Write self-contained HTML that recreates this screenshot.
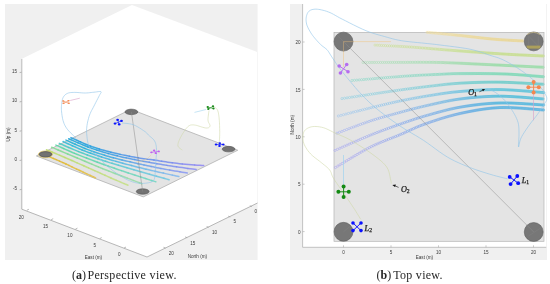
<!DOCTYPE html>
<html><head><meta charset="utf-8"><title>Figure</title>
<style>
html,body{margin:0;padding:0;background:#fff;}
body{width:550px;height:284px;position:relative;overflow:hidden;}
svg{position:absolute;left:0;top:0;}
</style></head><body>
<svg width="550" height="284" viewBox="0 0 550 284">
<rect x="5" y="4" width="252.6" height="256" fill="#f0f0f0"/>
<polygon points="132,5 257,52 257,203 147,257 22,209 21.5,59" fill="#ffffff"/>
<g stroke="#a2a2a2" stroke-width="0.75" fill="none">
<path d="M21.8,59 L21.8,209.2 L147,257 L257.5,203"/>
<path d="M21.6,72.2 l-2,0.4"/>
<path d="M21.6,101.5 l-2,0.4"/>
<path d="M21.6,130.8 l-2,0.4"/>
<path d="M21.6,160.1 l-2,0.4"/>
<path d="M21.6,189.4 l-2,0.4"/>
<path d="M26.89,210.24 l2,-0.98"/>
<path d="M51.16,219.69 l2,-0.98"/>
<path d="M75.44,229.14 l2,-0.98"/>
<path d="M99.71,238.59 l2,-0.98"/>
<path d="M123.99,248.04 l2,-0.98"/>
<path d="M165.55,248.08 l-2.05,-0.8"/>
<path d="M187.13,237.7 l-2.05,-0.8"/>
<path d="M208.7,227.33 l-2.05,-0.8"/>
<path d="M230.28,216.95 l-2.05,-0.8"/>
<path d="M251.85,206.58 l-2.05,-0.8"/>
</g>
<g font-family="Liberation Sans, Arial, sans-serif" font-size="4.6" fill="#3a3a3a" text-anchor="middle">
<text x="17" y="72.9" text-anchor="end">15</text>
<text x="17" y="102.2" text-anchor="end">10</text>
<text x="17" y="131.6" text-anchor="end">5</text>
<text x="17" y="160.8" text-anchor="end">0</text>
<text x="17" y="190.3" text-anchor="end">-5</text>
<text x="21.3" y="218.6">20</text>
<text x="45.5" y="228">15</text>
<text x="69.9" y="237.2">10</text>
<text x="94.8" y="246.8">5</text>
<text x="119.4" y="255.9">0</text>
<text x="171.3" y="254.9">20</text>
<text x="192.8" y="244.5">15</text>
<text x="214.6" y="233.9">10</text>
<text x="234.8" y="223.4">5</text>
<text x="255.9" y="212.8">0</text>
<text x="93.4" y="259.3">East (m)</text>
<text x="197.4" y="257.9">North (m)</text>
<text transform="translate(10.1,134.5) rotate(-90)">Up (m)</text>
</g>
<polygon points="237.75,150.24 130.83,109.32 36.34,155.96 143.27,196.88" fill="#e4e4e4" stroke="#adadad" stroke-width="0.75" stroke-linejoin="round"/>
<path d="M95.59,177.93 L94.64,177.49 L93.42,176.92" fill="none" stroke="#e5c24e" stroke-width="1.5" stroke-linecap="round" opacity="0.88"/>
<path d="M93.42,176.92 L91.97,176.25 L90.34,175.5" fill="none" stroke="#e5c24c" stroke-width="1.5" stroke-linecap="round" opacity="0.88"/>
<path d="M90.34,175.5 L88.59,174.68 L86.77,173.84" fill="none" stroke="#e4c14b" stroke-width="1.5" stroke-linecap="round" opacity="0.88"/>
<path d="M86.77,173.84 L84.91,172.97 L83.08,172.12" fill="none" stroke="#e4bf47" stroke-width="1.5" stroke-linecap="round" opacity="0.88"/>
<path d="M83.08,172.12 L81.33,171.3 L79.69,170.53" fill="none" stroke="#e3bf44" stroke-width="1.5" stroke-linecap="round" opacity="0.88"/>
<path d="M79.69,170.53 L78.14,169.8 L76.59,169.06" fill="none" stroke="#e3bf41" stroke-width="1.5" stroke-linecap="round" opacity="0.88"/>
<path d="M76.59,169.06 L75.04,168.31 L73.51,167.57 L71.98,166.83" fill="none" stroke="#e2be3e" stroke-width="1.5" stroke-linecap="round" opacity="0.88"/>
<path d="M71.98,166.83 L70.46,166.1 L68.94,165.37" fill="none" stroke="#e2bc3a" stroke-width="1.5" stroke-linecap="round" opacity="0.88"/>
<path d="M68.94,165.37 L67.43,164.65 L65.93,163.95" fill="none" stroke="#e1bb37" stroke-width="1.5" stroke-linecap="round" opacity="0.88"/>
<path d="M65.93,163.95 L64.44,163.27 L62.89,162.57" fill="none" stroke="#e1b934" stroke-width="1.5" stroke-linecap="round" opacity="0.88"/>
<path d="M62.89,162.57 L61.25,161.85 L59.57,161.11" fill="none" stroke="#e0b831" stroke-width="1.5" stroke-linecap="round" opacity="0.88"/>
<path d="M59.57,161.11 L57.88,160.38 L56.22,159.67" fill="none" stroke="#e0b831" stroke-width="1.5" stroke-linecap="round" opacity="0.88"/>
<path d="M56.22,159.67 L54.64,159 L53.18,158.38" fill="none" stroke="#e0b831" stroke-width="1.5" stroke-linecap="round" opacity="0.88"/>
<path d="M53.18,158.38 L51.87,157.83 L50.77,157.36 L49.91,156.99" fill="none" stroke="#e0b831" stroke-width="1.5" stroke-linecap="round" opacity="0.88"/>
<path d="M127.99,185.25 L126.97,184.81 L125.63,184.25 L124.06,183.58" fill="none" stroke="#c5df85" stroke-width="1.5" stroke-linecap="round" opacity="0.88"/>
<path d="M124.06,183.58 L122.29,182.83 L120.39,182.02 L118.41,181.18 L116.43,180.33" fill="none" stroke="#c4df84" stroke-width="1.5" stroke-linecap="round" opacity="0.88"/>
<path d="M116.43,180.33 L114.48,179.5 L112.63,178.7 L110.95,177.97" fill="none" stroke="#c4df82" stroke-width="1.5" stroke-linecap="round" opacity="0.88"/>
<path d="M110.95,177.97 L109.38,177.28 L107.87,176.61 L106.39,175.94 L104.94,175.29" fill="none" stroke="#c3de80" stroke-width="1.5" stroke-linecap="round" opacity="0.88"/>
<path d="M104.94,175.29 L103.5,174.64 L102.07,173.99 L100.64,173.34" fill="none" stroke="#c1de7e" stroke-width="1.5" stroke-linecap="round" opacity="0.88"/>
<path d="M100.64,173.34 L99.19,172.68 L97.72,172.02 L96.22,171.34 L94.69,170.66" fill="none" stroke="#c1de7c" stroke-width="1.5" stroke-linecap="round" opacity="0.88"/>
<path d="M94.69,170.66 L93.16,169.97 L91.62,169.28 L90.07,168.59 L88.51,167.89" fill="none" stroke="#c0de79" stroke-width="1.5" stroke-linecap="round" opacity="0.88"/>
<path d="M88.51,167.89 L86.93,167.19 L85.34,166.48 L83.74,165.77" fill="none" stroke="#bfde78" stroke-width="1.5" stroke-linecap="round" opacity="0.88"/>
<path d="M83.74,165.77 L82.11,165.05 L80.47,164.32 L78.8,163.58 L77.09,162.83" fill="none" stroke="#bede76" stroke-width="1.5" stroke-linecap="round" opacity="0.88"/>
<path d="M77.09,162.83 L75.37,162.07 L73.62,161.3 L71.86,160.53" fill="none" stroke="#bddd74" stroke-width="1.5" stroke-linecap="round" opacity="0.88"/>
<path d="M71.86,160.53 L70.1,159.76 L68.34,158.99 L66.59,158.22 L64.85,157.47" fill="none" stroke="#bcdd70" stroke-width="1.5" stroke-linecap="round" opacity="0.88"/>
<path d="M64.85,157.47 L63.14,156.74 L61.37,155.98 L59.5,155.18" fill="none" stroke="#bcdd70" stroke-width="1.5" stroke-linecap="round" opacity="0.88"/>
<path d="M59.5,155.18 L57.57,154.37 L55.62,153.55 L53.72,152.75 L51.91,151.99" fill="none" stroke="#bcdd70" stroke-width="1.5" stroke-linecap="round" opacity="0.88"/>
<path d="M51.91,151.99 L50.23,151.29 L48.73,150.67 L47.46,150.14 L46.47,149.72" fill="none" stroke="#bcdd70" stroke-width="1.5" stroke-linecap="round" opacity="0.88"/>
<path d="M142.01,183.7 L140.89,183.28 L139.45,182.73" fill="none" stroke="#9adcab" stroke-width="1.5" stroke-linecap="round" opacity="0.88"/>
<path d="M139.45,182.73 L137.76,182.09 L135.86,181.37 L133.8,180.58" fill="none" stroke="#98dca9" stroke-width="1.5" stroke-linecap="round" opacity="0.88"/>
<path d="M133.8,180.58 L131.64,179.76 L129.43,178.92 L127.23,178.08" fill="none" stroke="#97dca8" stroke-width="1.5" stroke-linecap="round" opacity="0.88"/>
<path d="M127.23,178.08 L125.08,177.26 L123.04,176.48 L121.06,175.73" fill="none" stroke="#95dca7" stroke-width="1.5" stroke-linecap="round" opacity="0.88"/>
<path d="M121.06,175.73 L119.08,174.98 L117.09,174.22 L115.08,173.46" fill="none" stroke="#94dca5" stroke-width="1.5" stroke-linecap="round" opacity="0.88"/>
<path d="M115.08,173.46 L113.06,172.7 L111.02,171.92 L108.95,171.12" fill="none" stroke="#91dca2" stroke-width="1.5" stroke-linecap="round" opacity="0.88"/>
<path d="M108.95,171.12 L106.87,170.31 L104.76,169.48 L102.62,168.63" fill="none" stroke="#8fdca1" stroke-width="1.5" stroke-linecap="round" opacity="0.88"/>
<path d="M102.62,168.63 L100.47,167.76 L98.33,166.88" fill="none" stroke="#8cdb9f" stroke-width="1.5" stroke-linecap="round" opacity="0.88"/>
<path d="M98.33,166.88 L96.18,165.99 L94.01,165.08 L91.81,164.16" fill="none" stroke="#8adb9c" stroke-width="1.5" stroke-linecap="round" opacity="0.88"/>
<path d="M91.81,164.16 L89.57,163.22 L87.28,162.25 L84.92,161.25" fill="none" stroke="#88db9a" stroke-width="1.5" stroke-linecap="round" opacity="0.88"/>
<path d="M84.92,161.25 L82.5,160.23 L79.99,159.18 L77.26,158.03" fill="none" stroke="#84db96" stroke-width="1.5" stroke-linecap="round" opacity="0.88"/>
<path d="M77.26,158.03 L74.23,156.75 L71,155.39 L67.69,153.99" fill="none" stroke="#7fdb93" stroke-width="1.5" stroke-linecap="round" opacity="0.88"/>
<path d="M67.69,153.99 L64.38,152.59 L61.18,151.24 L58.21,149.99" fill="none" stroke="#7fdb93" stroke-width="1.5" stroke-linecap="round" opacity="0.88"/>
<path d="M58.21,149.99 L55.55,148.86 L53.31,147.92 L51.59,147.19" fill="none" stroke="#7fdb93" stroke-width="1.5" stroke-linecap="round" opacity="0.88"/>
<path d="M155.79,181.83 L155.21,181.64 L154.47,181.4 L153.59,181.12 L152.6,180.8 L151.54,180.46" fill="none" stroke="#74d6c2" stroke-width="1.5" stroke-linecap="round" opacity="0.88"/>
<path d="M151.54,180.46 L150.42,180.1 L149.27,179.73 L148.11,179.36 L146.98,178.99 L145.91,178.64" fill="none" stroke="#73d6c1" stroke-width="1.5" stroke-linecap="round" opacity="0.88"/>
<path d="M145.91,178.64 L144.86,178.31 L143.82,177.97 L142.77,177.64 L141.71,177.3 L140.64,176.96" fill="none" stroke="#71d6c0" stroke-width="1.5" stroke-linecap="round" opacity="0.88"/>
<path d="M140.64,176.96 L139.55,176.61 L138.43,176.25 L137.29,175.88 L136.12,175.5 L134.9,175.11" fill="none" stroke="#70d6be" stroke-width="1.5" stroke-linecap="round" opacity="0.88"/>
<path d="M134.9,175.11 L133.65,174.7 L132.35,174.27 L131.01,173.84 L129.64,173.39 L128.25,172.93" fill="none" stroke="#6ed6bc" stroke-width="1.5" stroke-linecap="round" opacity="0.88"/>
<path d="M128.25,172.93 L126.85,172.47 L125.44,172 L124.04,171.54 L122.66,171.08 L121.3,170.62" fill="none" stroke="#6dd6bb" stroke-width="1.5" stroke-linecap="round" opacity="0.88"/>
<path d="M121.3,170.62 L119.94,170.16 L118.57,169.69 L117.19,169.21 L115.81,168.73 L114.44,168.26" fill="none" stroke="#6ad6b8" stroke-width="1.5" stroke-linecap="round" opacity="0.88"/>
<path d="M114.44,168.26 L113.09,167.78 L111.75,167.32 L110.45,166.86 L109.19,166.42 L107.97,165.99" fill="none" stroke="#68d6b6" stroke-width="1.5" stroke-linecap="round" opacity="0.88"/>
<path d="M107.97,165.99 L106.85,165.6 L105.88,165.27 L104.98,164.96 L104.14,164.67 L103.29,164.38" fill="none" stroke="#65d6b3" stroke-width="1.5" stroke-linecap="round" opacity="0.88"/>
<path d="M103.29,164.38 L102.39,164.06 L101.4,163.71 L100.27,163.3 L98.96,162.81 L97.42,162.23" fill="none" stroke="#63d6b1" stroke-width="1.5" stroke-linecap="round" opacity="0.88"/>
<path d="M97.42,162.23 L95.61,161.55 L93.57,160.77 L91.34,159.92 L88.97,159.01 L86.51,158.06" fill="none" stroke="#60d6ae" stroke-width="1.5" stroke-linecap="round" opacity="0.88"/>
<path d="M86.51,158.06 L84,157.09 L81.51,156.12 L79.08,155.15 L76.75,154.22 L74.58,153.33" fill="none" stroke="#5cd6aa" stroke-width="1.5" stroke-linecap="round" opacity="0.88"/>
<path d="M74.58,153.33 L72.46,152.44 L70.28,151.51 L68.08,150.55 L65.91,149.58 L63.81,148.64" fill="none" stroke="#59d6a7" stroke-width="1.5" stroke-linecap="round" opacity="0.88"/>
<path d="M63.81,148.64 L61.82,147.75 L60,146.92 L58.37,146.18 L56.99,145.56 L55.89,145.07" fill="none" stroke="#59d6a7" stroke-width="1.5" stroke-linecap="round" opacity="0.88"/>
<path d="M169.11,179.74 L168.15,179.47 L166.92,179.13 L165.47,178.73 L163.84,178.27" fill="none" stroke="#71c7e2" stroke-width="1.5" stroke-linecap="round" opacity="0.88"/>
<path d="M163.84,178.27 L162.08,177.78 L160.23,177.26 L158.34,176.73 L156.46,176.2" fill="none" stroke="#6fc7e0" stroke-width="1.5" stroke-linecap="round" opacity="0.88"/>
<path d="M156.46,176.2 L154.62,175.69 L152.88,175.2 L151.19,174.73 L149.48,174.25" fill="none" stroke="#6cc7df" stroke-width="1.5" stroke-linecap="round" opacity="0.88"/>
<path d="M149.48,174.25 L147.75,173.76 L146.01,173.28 L144.27,172.79 L142.51,172.29 L140.76,171.8" fill="none" stroke="#6ac7dd" stroke-width="1.5" stroke-linecap="round" opacity="0.88"/>
<path d="M140.76,171.8 L139.01,171.3 L137.27,170.81 L135.54,170.31 L133.82,169.81" fill="none" stroke="#65c7db" stroke-width="1.5" stroke-linecap="round" opacity="0.88"/>
<path d="M133.82,169.81 L132.11,169.32 L130.39,168.82 L128.68,168.32 L126.97,167.82" fill="none" stroke="#62c8d8" stroke-width="1.5" stroke-linecap="round" opacity="0.88"/>
<path d="M126.97,167.82 L125.26,167.32 L123.56,166.81 L121.86,166.31 L120.16,165.8 L118.47,165.29" fill="none" stroke="#5fc8d6" stroke-width="1.5" stroke-linecap="round" opacity="0.88"/>
<path d="M118.47,165.29 L116.81,164.78 L115.18,164.3 L113.57,163.81 L111.97,163.33" fill="none" stroke="#5bc8d3" stroke-width="1.5" stroke-linecap="round" opacity="0.88"/>
<path d="M111.97,163.33 L110.36,162.85 L108.74,162.35 L107.08,161.83 L105.37,161.28" fill="none" stroke="#58c8d1" stroke-width="1.5" stroke-linecap="round" opacity="0.88"/>
<path d="M105.37,161.28 L103.61,160.7 L101.77,160.08 L99.85,159.43 L97.86,158.74" fill="none" stroke="#53c8cf" stroke-width="1.5" stroke-linecap="round" opacity="0.88"/>
<path d="M97.86,158.74 L95.82,158.02 L93.73,157.28 L91.61,156.52 L89.47,155.74 L87.31,154.94" fill="none" stroke="#4fc9cb" stroke-width="1.5" stroke-linecap="round" opacity="0.88"/>
<path d="M87.31,154.94 L85.14,154.13 L82.99,153.31 L80.85,152.48 L78.62,151.59" fill="none" stroke="#47c9c6" stroke-width="1.5" stroke-linecap="round" opacity="0.88"/>
<path d="M78.62,151.59 L76.24,150.61 L73.75,149.57 L71.24,148.51 L68.76,147.46" fill="none" stroke="#46c9c5" stroke-width="1.5" stroke-linecap="round" opacity="0.88"/>
<path d="M68.76,147.46 L66.39,146.44 L64.2,145.5 L62.23,144.65 L60.58,143.94 L59.29,143.39" fill="none" stroke="#46c9c5" stroke-width="1.5" stroke-linecap="round" opacity="0.88"/>
<path d="M178.84,176.56 L177.65,176.29 L176.12,175.96 L174.31,175.56 L172.28,175.11" fill="none" stroke="#83b8ee" stroke-width="1.5" stroke-linecap="round" opacity="0.88"/>
<path d="M172.28,175.11 L170.1,174.63 L167.82,174.12 L165.51,173.61 L163.24,173.1" fill="none" stroke="#7fb8ed" stroke-width="1.5" stroke-linecap="round" opacity="0.88"/>
<path d="M163.24,173.1 L161.06,172.62 L159.05,172.16 L157.14,171.73 L155.25,171.3" fill="none" stroke="#79b7eb" stroke-width="1.5" stroke-linecap="round" opacity="0.88"/>
<path d="M155.25,171.3 L153.37,170.87 L151.51,170.45 L149.66,170.02 L147.82,169.59 L145.99,169.17" fill="none" stroke="#73b7ea" stroke-width="1.5" stroke-linecap="round" opacity="0.88"/>
<path d="M145.99,169.17 L144.17,168.73 L142.34,168.29 L140.53,167.85 L138.71,167.4" fill="none" stroke="#6cb8e8" stroke-width="1.5" stroke-linecap="round" opacity="0.88"/>
<path d="M138.71,167.4 L136.9,166.95 L135.1,166.49 L133.31,166.03 L131.52,165.57" fill="none" stroke="#65b8e6" stroke-width="1.5" stroke-linecap="round" opacity="0.88"/>
<path d="M131.52,165.57 L129.74,165.1 L127.97,164.64 L126.2,164.16 L124.44,163.69 L122.69,163.21" fill="none" stroke="#5fb8e4" stroke-width="1.5" stroke-linecap="round" opacity="0.88"/>
<path d="M122.69,163.21 L120.96,162.73 L119.28,162.27 L117.62,161.81 L115.97,161.36" fill="none" stroke="#56b8e2" stroke-width="1.5" stroke-linecap="round" opacity="0.88"/>
<path d="M115.97,161.36 L114.33,160.89 L112.66,160.41 L110.96,159.91 L109.22,159.38" fill="none" stroke="#4fb8e1" stroke-width="1.5" stroke-linecap="round" opacity="0.88"/>
<path d="M109.22,159.38 L107.41,158.83 L105.53,158.23 L103.56,157.59 L101.53,156.93" fill="none" stroke="#47b7df" stroke-width="1.5" stroke-linecap="round" opacity="0.88"/>
<path d="M101.53,156.93 L99.43,156.24 L97.29,155.53 L95.11,154.79 L92.92,154.04 L90.72,153.26" fill="none" stroke="#3db8dc" stroke-width="1.5" stroke-linecap="round" opacity="0.88"/>
<path d="M90.72,153.26 L88.52,152.46 L86.35,151.65 L84.2,150.82 L81.99,149.93" fill="none" stroke="#2fb8d9" stroke-width="1.5" stroke-linecap="round" opacity="0.88"/>
<path d="M81.99,149.93 L79.62,148.94 L77.18,147.88 L74.72,146.8 L72.3,145.72" fill="none" stroke="#2db8d8" stroke-width="1.5" stroke-linecap="round" opacity="0.88"/>
<path d="M72.3,145.72 L69.98,144.67 L67.84,143.7 L65.93,142.83 L64.31,142.1 L63.05,141.54" fill="none" stroke="#2db8d8" stroke-width="1.5" stroke-linecap="round" opacity="0.88"/>
<path d="M187.34,172.98 L186,172.76 L184.25,172.48 L182.18,172.14 L179.86,171.76" fill="none" stroke="#8a9af2" stroke-width="1.5" stroke-linecap="round" opacity="0.88"/>
<path d="M179.86,171.76 L177.37,171.35 L174.78,170.92 L172.17,170.49 L169.61,170.05" fill="none" stroke="#849bf0" stroke-width="1.5" stroke-linecap="round" opacity="0.88"/>
<path d="M169.61,170.05 L167.19,169.63 L164.98,169.23 L162.91,168.84 L160.87,168.45" fill="none" stroke="#7d9dee" stroke-width="1.5" stroke-linecap="round" opacity="0.88"/>
<path d="M160.87,168.45 L158.85,168.05 L156.87,167.65 L154.92,167.25 L153,166.85 L151.12,166.45" fill="none" stroke="#759eed" stroke-width="1.5" stroke-linecap="round" opacity="0.88"/>
<path d="M151.12,166.45 L149.27,166.06 L147.46,165.68 L145.69,165.3 L144,164.94" fill="none" stroke="#6da0eb" stroke-width="1.5" stroke-linecap="round" opacity="0.88"/>
<path d="M144,164.94 L142.41,164.61 L140.89,164.29 L139.41,163.97 L137.96,163.65" fill="none" stroke="#66a2e9" stroke-width="1.5" stroke-linecap="round" opacity="0.88"/>
<path d="M137.96,163.65 L136.49,163.33 L134.99,163 L133.43,162.64 L131.77,162.26 L130,161.84" fill="none" stroke="#5fa3e7" stroke-width="1.5" stroke-linecap="round" opacity="0.88"/>
<path d="M130,161.84 L128.12,161.39 L126.14,160.93 L124.1,160.45 L121.99,159.95" fill="none" stroke="#56a5e5" stroke-width="1.5" stroke-linecap="round" opacity="0.88"/>
<path d="M121.99,159.95 L119.84,159.43 L117.66,158.89 L115.47,158.34 L113.27,157.76" fill="none" stroke="#4ba7e2" stroke-width="1.5" stroke-linecap="round" opacity="0.88"/>
<path d="M113.27,157.76 L111.08,157.17 L108.93,156.55 L106.78,155.92 L104.61,155.26" fill="none" stroke="#40aae0" stroke-width="1.5" stroke-linecap="round" opacity="0.88"/>
<path d="M104.61,155.26 L102.44,154.59 L100.26,153.9 L98.07,153.2 L95.88,152.47 L93.7,151.72" fill="none" stroke="#34acdd" stroke-width="1.5" stroke-linecap="round" opacity="0.88"/>
<path d="M93.7,151.72 L91.52,150.95 L89.35,150.16 L87.19,149.35 L84.95,148.46" fill="none" stroke="#24b0d9" stroke-width="1.5" stroke-linecap="round" opacity="0.88"/>
<path d="M84.95,148.46 L82.57,147.48 L80.12,146.43 L77.64,145.35 L75.22,144.27" fill="none" stroke="#21b0d8" stroke-width="1.5" stroke-linecap="round" opacity="0.88"/>
<path d="M75.22,144.27 L72.9,143.23 L70.75,142.26 L68.83,141.39 L67.21,140.66 L65.95,140.1" fill="none" stroke="#21b0d8" stroke-width="1.5" stroke-linecap="round" opacity="0.88"/>
<path d="M196.16,169.53 L194.67,169.32 L192.72,169.06 L190.42,168.74 L187.83,168.39" fill="none" stroke="#8c8df2" stroke-width="1.5" stroke-linecap="round" opacity="0.88"/>
<path d="M187.83,168.39 L185.06,168 L182.19,167.61 L179.3,167.2 L176.48,166.8" fill="none" stroke="#858ff0" stroke-width="1.5" stroke-linecap="round" opacity="0.88"/>
<path d="M176.48,166.8 L173.82,166.41 L171.41,166.05 L169.18,165.71 L167,165.37" fill="none" stroke="#7d91ef" stroke-width="1.5" stroke-linecap="round" opacity="0.88"/>
<path d="M167,165.37 L164.86,165.02 L162.76,164.68 L160.71,164.33 L158.7,163.99 L156.73,163.65" fill="none" stroke="#7692ed" stroke-width="1.5" stroke-linecap="round" opacity="0.88"/>
<path d="M156.73,163.65 L154.79,163.32 L152.9,162.99 L151.04,162.66 L149.25,162.35" fill="none" stroke="#6d95eb" stroke-width="1.5" stroke-linecap="round" opacity="0.88"/>
<path d="M149.25,162.35 L147.57,162.06 L145.97,161.78 L144.42,161.5 L142.88,161.23" fill="none" stroke="#6697ea" stroke-width="1.5" stroke-linecap="round" opacity="0.88"/>
<path d="M142.88,161.23 L141.34,160.94 L139.76,160.64 L138.12,160.33 L136.38,159.98 L134.53,159.6" fill="none" stroke="#5f98e9" stroke-width="1.5" stroke-linecap="round" opacity="0.88"/>
<path d="M134.53,159.6 L132.56,159.2 L130.51,158.77 L128.38,158.33 L126.19,157.88" fill="none" stroke="#549ae7" stroke-width="1.5" stroke-linecap="round" opacity="0.88"/>
<path d="M126.19,157.88 L123.95,157.4 L121.69,156.9 L119.41,156.39 L117.14,155.85" fill="none" stroke="#4a9de5" stroke-width="1.5" stroke-linecap="round" opacity="0.88"/>
<path d="M117.14,155.85 L114.87,155.29 L112.64,154.72 L110.42,154.12 L108.19,153.5" fill="none" stroke="#3e9ee2" stroke-width="1.5" stroke-linecap="round" opacity="0.88"/>
<path d="M108.19,153.5 L105.94,152.87 L103.69,152.21 L101.44,151.53 L99.19,150.83 L96.94,150.12" fill="none" stroke="#32a1e0" stroke-width="1.5" stroke-linecap="round" opacity="0.88"/>
<path d="M96.94,150.12 L94.71,149.37 L92.48,148.61 L90.27,147.82 L87.99,146.97" fill="none" stroke="#21a4dd" stroke-width="1.5" stroke-linecap="round" opacity="0.88"/>
<path d="M87.99,146.97 L85.56,146.01 L83.06,144.98 L80.54,143.92 L78.07,142.86" fill="none" stroke="#1da6dc" stroke-width="1.5" stroke-linecap="round" opacity="0.88"/>
<path d="M78.07,142.86 L75.72,141.84 L73.54,140.88 L71.6,140.03 L69.95,139.31 L68.67,138.76" fill="none" stroke="#1da6dc" stroke-width="1.5" stroke-linecap="round" opacity="0.88"/>
<path d="M203.65,165.61 L202.03,165.48 L199.91,165.32 L197.4,165.13 L194.58,164.91" fill="none" stroke="#8f89f2" stroke-width="1.5" stroke-linecap="round" opacity="0.88"/>
<path d="M194.58,164.91 L191.57,164.68 L188.44,164.43 L185.31,164.17 L182.27,163.91" fill="none" stroke="#898af1" stroke-width="1.5" stroke-linecap="round" opacity="0.88"/>
<path d="M182.27,163.91 L179.42,163.64 L176.85,163.37 L174.5,163.1 L172.22,162.8" fill="none" stroke="#818cef" stroke-width="1.5" stroke-linecap="round" opacity="0.88"/>
<path d="M172.22,162.8 L170,162.5 L167.85,162.18 L165.75,161.86 L163.69,161.54 L161.68,161.22" fill="none" stroke="#788dee" stroke-width="1.5" stroke-linecap="round" opacity="0.88"/>
<path d="M161.68,161.22 L159.69,160.9 L157.74,160.6 L155.79,160.31 L153.91,160.05" fill="none" stroke="#6f8fec" stroke-width="1.5" stroke-linecap="round" opacity="0.88"/>
<path d="M153.91,160.05 L152.13,159.81 L150.41,159.59 L148.73,159.37 L147.08,159.15" fill="none" stroke="#6990eb" stroke-width="1.5" stroke-linecap="round" opacity="0.88"/>
<path d="M147.08,159.15 L145.41,158.93 L143.71,158.69 L141.95,158.43 L140.11,158.14 L138.16,157.81" fill="none" stroke="#6292ea" stroke-width="1.5" stroke-linecap="round" opacity="0.88"/>
<path d="M138.16,157.81 L136.1,157.45 L133.95,157.07 L131.74,156.67 L129.48,156.25" fill="none" stroke="#5893e8" stroke-width="1.5" stroke-linecap="round" opacity="0.88"/>
<path d="M129.48,156.25 L127.17,155.81 L124.84,155.35 L122.49,154.87 L120.14,154.37" fill="none" stroke="#4d95e6" stroke-width="1.5" stroke-linecap="round" opacity="0.88"/>
<path d="M120.14,154.37 L117.8,153.85 L115.49,153.31 L113.19,152.75 L110.87,152.18" fill="none" stroke="#4298e4" stroke-width="1.5" stroke-linecap="round" opacity="0.88"/>
<path d="M110.87,152.18 L108.53,151.59 L106.19,150.97 L103.85,150.34 L101.51,149.69 L99.19,149.01" fill="none" stroke="#359ae2" stroke-width="1.5" stroke-linecap="round" opacity="0.88"/>
<path d="M99.19,149.01 L96.88,148.3 L94.6,147.56 L92.36,146.8 L90.05,145.95" fill="none" stroke="#259edf" stroke-width="1.5" stroke-linecap="round" opacity="0.88"/>
<path d="M90.05,145.95 L87.62,144.99 L85.13,143.96 L82.64,142.89 L80.2,141.81" fill="none" stroke="#229ede" stroke-width="1.5" stroke-linecap="round" opacity="0.88"/>
<path d="M80.2,141.81 L77.88,140.77 L75.73,139.8 L73.82,138.93 L72.2,138.2 L70.94,137.64" fill="none" stroke="#229ede" stroke-width="1.5" stroke-linecap="round" opacity="0.88"/>
<ellipse cx="131.4" cy="111.92" rx="6.4" ry="2.75" fill="#727272" stroke="#505050" stroke-width="0.6"/>
<ellipse cx="228.6" cy="149.12" rx="6.4" ry="2.75" fill="#727272" stroke="#505050" stroke-width="0.6"/>
<ellipse cx="45.5" cy="154.32" rx="6.4" ry="2.75" fill="#727272" stroke="#505050" stroke-width="0.6"/>
<ellipse cx="142.7" cy="191.52" rx="6.4" ry="2.75" fill="#727272" stroke="#505050" stroke-width="0.6"/>
<ellipse cx="45.5" cy="154.32" rx="7.1" ry="3.4" fill="none" stroke="#e2c458" stroke-width="0.8" opacity="0.85"/>
<ellipse cx="45.5" cy="154.32" rx="6.2" ry="2.6" fill="#727272" stroke="#505050" stroke-width="0.5"/>
<line x1="131.4" y1="111.92" x2="142.7" y2="191.52" stroke="#8a8a8a" stroke-width="0.5"/>
<path d="M76,138 L75.05,137.09 L73.7,135.83 L72.11,134.33 L70.47,132.73 L68.94,131.14 L67.7,129.7 L66.74,128.41 L65.91,127.17 L65.2,125.96 L64.58,124.71 L64.02,123.41 L63.5,122 L63.03,120.44 L62.63,118.75 L62.29,116.99 L62.01,115.24 L61.78,113.55 L61.6,112 L61.47,110.59 L61.4,109.27 L61.38,108.02 L61.41,106.81 L61.49,105.61 L61.6,104.4 L61.74,103.15 L61.91,101.88 L62.12,100.63 L62.4,99.42 L62.75,98.3 L63.2,97.3 L63.74,96.42 L64.36,95.62 L65.06,94.91 L65.84,94.29 L66.68,93.75 L67.6,93.3 L68.57,92.95 L69.61,92.71 L70.71,92.56 L71.9,92.47 L73.19,92.43 L74.6,92.4 L76.18,92.43 L77.93,92.54 L79.79,92.69 L81.67,92.85 L83.5,92.96 L85.2,93 L86.79,92.94 L88.33,92.83 L89.83,92.67 L91.27,92.5 L92.66,92.33 L94,92.2 L95.37,92.05 L96.79,91.85 L98.16,91.66 L99.38,91.53 L100.36,91.53 L101,91.7 L101.26,92.02 L101.21,92.43 L100.92,92.97 L100.46,93.66 L99.89,94.52 L99.3,95.6 L98.61,96.97 L97.77,98.64 L96.82,100.48 L95.83,102.4 L94.87,104.27 L94,106 L93.19,107.56 L92.4,109.05 L91.63,110.49 L90.9,111.94 L90.22,113.43 L89.6,115 L89.03,116.67 L88.51,118.43 L88.04,120.22 L87.62,122.02 L87.27,123.79 L87,125.5 L86.79,127.11 L86.65,128.65 L86.57,130.16 L86.56,131.69 L86.64,133.28 L86.8,135 L86.99,136.86 L87.2,138.83 L87.49,140.86 L87.93,142.93 L88.58,144.99 L89.5,147 L90.77,148.98 L92.34,150.97 L94.13,152.96 L96.03,154.91 L97.95,156.83 L99.8,158.7 L101.57,160.52 L103.35,162.3 L105.15,164.04 L106.98,165.74 L108.86,167.39 L110.8,169 L112.84,170.59 L114.97,172.16 L117.14,173.69 L119.32,175.15 L121.46,176.49 L123.5,177.7 L125.46,178.77 L127.38,179.74 L129.25,180.59 L131.08,181.34 L132.86,181.98 L134.6,182.5 L136.29,182.89 L137.94,183.15 L139.55,183.3 L141.11,183.36 L142.63,183.35 L144.1,183.3 L145.57,183.2 L147.05,183.02 L148.48,182.78 L149.82,182.48 L151.01,182.12 L152,181.7 L152.76,181.27 L153.33,180.82 L153.74,180.31 L154.06,179.7 L154.33,178.95 L154.6,178 L154.84,176.81 L155.01,175.41 L155.12,173.86 L155.21,172.23 L155.3,170.59 L155.4,169 L155.51,167.46 L155.62,165.91 L155.72,164.34 L155.81,162.76 L155.91,161.15 L156,159.5 L156.12,157.78 L156.26,155.98 L156.41,154.16 L156.51,152.35 L156.56,150.62 L156.5,149 L156.37,147.5 L156.2,146.07 L155.97,144.72 L155.64,143.43 L155.19,142.19 L154.6,141 L153.78,139.85 L152.75,138.76 L151.59,137.71 L150.42,136.73 L149.32,135.83 L148.4,135 L147.77,134.32 L147.36,133.8 L147.03,133.35 L146.63,132.89 L146,132.33 L145,131.6 L143.55,130.61 L141.77,129.4 L139.76,128.1 L137.63,126.82 L135.51,125.68 L133.5,124.8 L131.45,124.19 L129.24,123.76 L127.03,123.48 L124.98,123.28 L123.25,123.14 L122,123" fill="none" stroke="#8ec4ea" stroke-width="0.6"/>
<path d="M213.9,106.6 L214.14,106.81 L214.45,107.04 L214.83,107.3 L215.25,107.6 L215.7,107.94 L216.16,108.34 L216.6,108.78 L217.02,109.29 L217.39,109.86 L217.7,110.5 L217.95,111.22 L218.18,112.01 L218.38,112.86 L218.56,113.78 L218.71,114.75 L218.85,115.77 L218.98,116.83 L219.09,117.92 L219.2,119.05 L219.3,120.2 L219.39,121.42 L219.47,122.73 L219.53,124.12 L219.58,125.56 L219.62,127.01 L219.66,128.46 L219.68,129.88 L219.69,131.25 L219.7,132.53 L219.7,133.7 L219.69,134.8 L219.66,135.89 L219.63,136.94 L219.58,137.94 L219.52,138.89 L219.47,139.78 L219.42,140.58 L219.37,141.29 L219.33,141.9 L219.3,142.4" fill="none" stroke="#cdd6a4" stroke-width="0.55"/>
<path d="M209,110.5 L208.93,111.09 L208.82,111.88 L208.68,112.82 L208.53,113.87 L208.38,114.99 L208.23,116.14 L208.11,117.27 L208.02,118.35 L207.98,119.34 L208,120.2 L208.11,120.96 L208.3,121.67 L208.57,122.35 L208.87,122.98 L209.19,123.58 L209.49,124.14 L209.75,124.66 L209.94,125.15 L210.03,125.59 L210,126 L209.88,126.38 L209.7,126.72 L209.48,127.04 L209.19,127.31 L208.84,127.55 L208.43,127.74 L207.94,127.89 L207.38,127.98 L206.73,128.02 L206,128 L205.13,127.88 L204.09,127.66 L202.92,127.34 L201.67,126.97 L200.36,126.56 L199.05,126.15 L197.77,125.76 L196.56,125.42 L195.45,125.16 L194.5,125 L193.68,124.92 L192.96,124.87 L192.31,124.85 L191.72,124.88 L191.18,124.95 L190.67,125.06 L190.19,125.22 L189.7,125.43 L189.21,125.69 L188.7,126 L188.18,126.38 L187.66,126.84 L187.16,127.36 L186.66,127.93 L186.18,128.54 L185.71,129.18 L185.24,129.84 L184.79,130.51 L184.34,131.16 L183.9,131.8 L183.47,132.44 L183.03,133.1 L182.6,133.78 L182.18,134.47 L181.78,135.17 L181.38,135.86 L181,136.55 L180.64,137.22 L180.31,137.87 L180,138.5 L179.71,139.11 L179.44,139.72 L179.18,140.32 L178.94,140.91 L178.72,141.48 L178.53,142.04 L178.36,142.57 L178.21,143.08 L178.09,143.56 L178,144 L177.93,144.4 L177.89,144.76 L177.86,145.08 L177.86,145.38 L177.89,145.65 L177.94,145.91 L178.03,146.17 L178.15,146.43 L178.31,146.71 L178.5,147 L178.76,147.32 L179.11,147.66 L179.52,148.02 L179.96,148.38 L180.43,148.74 L180.9,149.08 L181.34,149.39 L181.73,149.68 L182.06,149.92 L182.3,150.1" fill="none" stroke="#cdd6a4" stroke-width="0.55"/>
<line x1="194.5" y1="112.4" x2="206" y2="109.5" stroke="#9fd3ef" stroke-width="0.6"/>
<line x1="70.2" y1="100.5" x2="79.8" y2="98.2" stroke="#d9a0c8" stroke-width="0.6"/>
<path d="M151.3,154.8 L147.3,158.7 L142.5,161 L136.2,161.9" fill="none" stroke="#efd09a" stroke-width="0.5"/>
<path d="M63.2,101 L68.8,103.3 M68.5,100.8 L63.5,103.3" stroke="#f4874f" stroke-width="0.6"/><ellipse cx="63.2" cy="101" rx="1.2" ry="0.8" fill="#f4874f"/><ellipse cx="68.5" cy="100.8" rx="1.2" ry="0.8" fill="#f4874f"/><ellipse cx="63.5" cy="103.3" rx="1.2" ry="0.8" fill="#f4874f"/><ellipse cx="68.8" cy="103.3" rx="1.2" ry="0.8" fill="#f4874f"/>
<path d="M117.6,119.9 L119.2,124.4 M121.5,120.9 L115,123.6" stroke="#0a14ff" stroke-width="0.6"/><ellipse cx="117.6" cy="119.9" rx="1.4" ry="1.1" fill="#0a14ff"/><ellipse cx="121.5" cy="120.9" rx="1.4" ry="1.1" fill="#0a14ff"/><ellipse cx="115" cy="123.6" rx="1.4" ry="1.1" fill="#0a14ff"/><ellipse cx="119.2" cy="124.4" rx="1.4" ry="1.1" fill="#0a14ff"/>
<path d="M207.7,107 L213.5,108.6 M213,106.3 L208.3,109.1" stroke="#1a8a1a" stroke-width="0.6"/><ellipse cx="207.7" cy="107" rx="1.15" ry="1" fill="#1a8a1a"/><ellipse cx="213" cy="106.3" rx="1.15" ry="1" fill="#1a8a1a"/><ellipse cx="208.3" cy="109.1" rx="1.15" ry="1" fill="#1a8a1a"/><ellipse cx="213.5" cy="108.6" rx="1.15" ry="1" fill="#1a8a1a"/>
<path d="M154.1,150.4 L155.8,153.2 M158.7,151.4 L151.4,152.3" stroke="#c061f0" stroke-width="0.6"/><ellipse cx="154.1" cy="150.4" rx="1.2" ry="0.85" fill="#c061f0"/><ellipse cx="158.7" cy="151.4" rx="1.2" ry="0.85" fill="#c061f0"/><ellipse cx="151.4" cy="152.3" rx="1.2" ry="0.85" fill="#c061f0"/><ellipse cx="155.8" cy="153.2" rx="1.2" ry="0.85" fill="#c061f0"/>
<path d="M216,144.5 L223.3,144.5 M219.8,143.1 L219.5,146" stroke="#0a14ff" stroke-width="0.6"/><ellipse cx="216" cy="144.5" rx="1.3" ry="0.95" fill="#0a14ff"/><ellipse cx="219.8" cy="143.1" rx="1.3" ry="0.95" fill="#0a14ff"/><ellipse cx="219.5" cy="146" rx="1.3" ry="0.95" fill="#0a14ff"/><ellipse cx="223.3" cy="144.5" rx="1.3" ry="0.95" fill="#0a14ff"/>
<rect x="290" y="4" width="257" height="256" fill="#f0f0f0"/>
<rect x="302.6" y="4" width="243.6" height="243.3" fill="#ffffff"/>
<path d="M302.6,4 L302.6,247.3 L546.2,247.3" fill="none" stroke="#b4b4b4" stroke-width="0.8"/>
<g stroke="#a8a8a8" stroke-width="0.6">
<line x1="302.6" y1="231.6" x2="304.6" y2="231.6"/>
<line x1="302.6" y1="184.2" x2="304.6" y2="184.2"/>
<line x1="302.6" y1="136.8" x2="304.6" y2="136.8"/>
<line x1="302.6" y1="89.4" x2="304.6" y2="89.4"/>
<line x1="302.6" y1="42" x2="304.6" y2="42"/>
<line x1="343.5" y1="247.3" x2="343.5" y2="245.3"/>
<line x1="391" y1="247.3" x2="391" y2="245.3"/>
<line x1="438.5" y1="247.3" x2="438.5" y2="245.3"/>
<line x1="486" y1="247.3" x2="486" y2="245.3"/>
<line x1="533.5" y1="247.3" x2="533.5" y2="245.3"/>
</g>
<g font-family="Liberation Sans, Arial, sans-serif" font-size="4.6" fill="#3a3a3a" text-anchor="middle">
<text x="300.6" y="233.7" text-anchor="end">0</text>
<text x="300.6" y="186.3" text-anchor="end">5</text>
<text x="300.6" y="138.9" text-anchor="end">10</text>
<text x="300.6" y="91.5" text-anchor="end">15</text>
<text x="300.6" y="44.1" text-anchor="end">20</text>
<text x="343.5" y="253.8">0</text>
<text x="391" y="253.8">5</text>
<text x="438.5" y="253.8">10</text>
<text x="486" y="253.8">15</text>
<text x="533.5" y="253.8">20</text>
<text x="424.4" y="259.4">East (m)</text>
<text transform="translate(293.9,124.7) rotate(-90)">North (m)</text>
</g>
<rect x="334" y="32.4" width="210" height="208.9" fill="#e4e4e4" stroke="#b4b4b4" stroke-width="0.7"/>
<path d="M343.5,41.6 L391,41.6 M343.5,41.6 L343.5,67" fill="none" stroke="#eecb94" stroke-width="0.6"/>
<g fill="none" stroke-width="0.5">
<circle cx="427" cy="32.3" r="1.1" stroke="#efdc9c"/>
<circle cx="428.46" cy="32.44" r="1.1" stroke="#efdc9c"/>
<circle cx="429.91" cy="32.58" r="1.1" stroke="#efdc9c"/>
<circle cx="431.33" cy="32.71" r="1.1" stroke="#efdc9b"/>
<circle cx="432.74" cy="32.85" r="1.1" stroke="#efdc9b"/>
<circle cx="434.12" cy="32.98" r="1.1" stroke="#efdc9b"/>
<circle cx="435.5" cy="33.11" r="1.1" stroke="#efdb9b"/>
<circle cx="436.85" cy="33.24" r="1.1" stroke="#efdb9b"/>
<circle cx="438.18" cy="33.37" r="1.1" stroke="#efdb9a"/>
<circle cx="439.5" cy="33.49" r="1.1" stroke="#eedb9a"/>
<circle cx="440.8" cy="33.62" r="1.1" stroke="#eedb9a"/>
<circle cx="442.08" cy="33.74" r="1.1" stroke="#eedb99"/>
<circle cx="443.35" cy="33.86" r="1.1" stroke="#eedb99"/>
<circle cx="444.6" cy="33.98" r="1.1" stroke="#eedb99"/>
<circle cx="445.84" cy="34.1" r="1.1" stroke="#eedb99"/>
<circle cx="447.06" cy="34.22" r="1.1" stroke="#eeda98"/>
<circle cx="448.26" cy="34.33" r="1.1" stroke="#eeda98"/>
<circle cx="449.44" cy="34.45" r="1.1" stroke="#eeda98"/>
<circle cx="450.62" cy="34.56" r="1.1" stroke="#eeda98"/>
<circle cx="451.77" cy="34.68" r="1.1" stroke="#eeda97"/>
<circle cx="452.91" cy="34.79" r="1.1" stroke="#eeda97"/>
<circle cx="454.04" cy="34.9" r="1.1" stroke="#eeda97"/>
<circle cx="455.15" cy="35.01" r="1.1" stroke="#edda97"/>
<circle cx="456.25" cy="35.12" r="1.1" stroke="#edd996"/>
<circle cx="457.33" cy="35.23" r="1.1" stroke="#edd996"/>
<circle cx="458.4" cy="35.34" r="1.1" stroke="#edd996"/>
<circle cx="459.46" cy="35.44" r="1.1" stroke="#edd995"/>
<circle cx="460.5" cy="35.55" r="1.1" stroke="#edd995"/>
<circle cx="461.53" cy="35.66" r="1.1" stroke="#edd995"/>
<circle cx="462.54" cy="35.76" r="1.1" stroke="#edd995"/>
<circle cx="463.54" cy="35.87" r="1.1" stroke="#edd994"/>
<circle cx="464.53" cy="35.98" r="1.1" stroke="#edd994"/>
<circle cx="465.51" cy="36.08" r="1.1" stroke="#edd894"/>
<circle cx="466.47" cy="36.19" r="1.1" stroke="#edd894"/>
<circle cx="467.42" cy="36.3" r="1.1" stroke="#edd893"/>
<circle cx="468.36" cy="36.4" r="1.1" stroke="#edd893"/>
<circle cx="469.31" cy="36.51" r="1.1" stroke="#ecd893"/>
<circle cx="470.25" cy="36.62" r="1.1" stroke="#ecd893"/>
<circle cx="471.2" cy="36.73" r="1.1" stroke="#ecd892"/>
<circle cx="472.14" cy="36.84" r="1.1" stroke="#ecd892"/>
<circle cx="473.08" cy="36.95" r="1.1" stroke="#ecd792"/>
<circle cx="474.03" cy="37.06" r="1.1" stroke="#ecd792"/>
<circle cx="474.97" cy="37.17" r="1.1" stroke="#ecd791"/>
<circle cx="475.91" cy="37.28" r="1.1" stroke="#ecd791"/>
<circle cx="476.86" cy="37.39" r="1.1" stroke="#ecd791"/>
<circle cx="477.8" cy="37.5" r="1.1" stroke="#ecd791"/>
<circle cx="478.74" cy="37.61" r="1.1" stroke="#ecd790"/>
<circle cx="479.69" cy="37.72" r="1.1" stroke="#ecd790"/>
<circle cx="480.63" cy="37.83" r="1.1" stroke="#ecd790"/>
<circle cx="481.58" cy="37.93" r="1.1" stroke="#ecd68f"/>
<circle cx="482.52" cy="38.04" r="1.1" stroke="#ebd68f"/>
<circle cx="483.46" cy="38.14" r="1.1" stroke="#ebd68f"/>
<circle cx="484.41" cy="38.25" r="1.1" stroke="#ebd68f"/>
<circle cx="485.35" cy="38.35" r="1.1" stroke="#ebd68e"/>
<circle cx="486.3" cy="38.45" r="1.1" stroke="#ebd68e"/>
<circle cx="487.24" cy="38.55" r="1.1" stroke="#ebd68e"/>
<circle cx="488.19" cy="38.65" r="1.1" stroke="#ebd68e"/>
<circle cx="489.13" cy="38.74" r="1.1" stroke="#ebd58d"/>
<circle cx="490.08" cy="38.84" r="1.1" stroke="#ebd58d"/>
<circle cx="491.02" cy="38.93" r="1.1" stroke="#ebd58d"/>
<circle cx="491.97" cy="39.02" r="1.1" stroke="#ebd58c"/>
<circle cx="492.92" cy="39.1" r="1.1" stroke="#ebd58c"/>
<circle cx="493.86" cy="39.19" r="1.1" stroke="#ebd58c"/>
<circle cx="494.81" cy="39.27" r="1.1" stroke="#ead58c"/>
<circle cx="495.75" cy="39.34" r="1.1" stroke="#ead58b"/>
<circle cx="496.7" cy="39.42" r="1.1" stroke="#ead48b"/>
<circle cx="497.65" cy="39.49" r="1.1" stroke="#ead48b"/>
<circle cx="498.6" cy="39.56" r="1.1" stroke="#ead48a"/>
<circle cx="499.54" cy="39.63" r="1.1" stroke="#ead48a"/>
<circle cx="500.49" cy="39.69" r="1.1" stroke="#ead48a"/>
<circle cx="501.44" cy="39.75" r="1.1" stroke="#ead48a"/>
<circle cx="502.39" cy="39.82" r="1.1" stroke="#ead48a"/>
<circle cx="503.34" cy="39.88" r="1.1" stroke="#ead48a"/>
<circle cx="504.28" cy="39.93" r="1.1" stroke="#ead48a"/>
<circle cx="505.23" cy="39.99" r="1.1" stroke="#ead48a"/>
<circle cx="506.18" cy="40.05" r="1.1" stroke="#ead48a"/>
<circle cx="507.13" cy="40.1" r="1.1" stroke="#ead48a"/>
<circle cx="508.08" cy="40.16" r="1.1" stroke="#ead48a"/>
<circle cx="509.03" cy="40.21" r="1.1" stroke="#ead48a"/>
<circle cx="509.97" cy="40.26" r="1.1" stroke="#ead48a"/>
<circle cx="510.92" cy="40.32" r="1.1" stroke="#ead48a"/>
<circle cx="511.87" cy="40.37" r="1.1" stroke="#ead48a"/>
<circle cx="512.82" cy="40.42" r="1.1" stroke="#ead48a"/>
<circle cx="513.77" cy="40.47" r="1.1" stroke="#ead48a"/>
<circle cx="514.72" cy="40.52" r="1.1" stroke="#ead48a"/>
<circle cx="515.67" cy="40.57" r="1.1" stroke="#ead48a"/>
<circle cx="516.62" cy="40.61" r="1.1" stroke="#ead48a"/>
<circle cx="517.56" cy="40.66" r="1.1" stroke="#ead48a"/>
<circle cx="518.51" cy="40.71" r="1.1" stroke="#ead48a"/>
<circle cx="519.46" cy="40.76" r="1.1" stroke="#ead48a"/>
<circle cx="520.41" cy="40.81" r="1.1" stroke="#ead48a"/>
<circle cx="521.36" cy="40.86" r="1.1" stroke="#ead48a"/>
<circle cx="522.31" cy="40.91" r="1.1" stroke="#ead48a"/>
<circle cx="523.26" cy="40.96" r="1.1" stroke="#ead48a"/>
</g>
<g fill="none" stroke-width="0.5">
<circle cx="375" cy="45.1" r="1.1" stroke="#cadf96"/>
<circle cx="377.14" cy="45.21" r="1.1" stroke="#cadf96"/>
<circle cx="379.26" cy="45.32" r="1.1" stroke="#cadf96"/>
<circle cx="381.34" cy="45.43" r="1.1" stroke="#cadf96"/>
<circle cx="383.4" cy="45.53" r="1.1" stroke="#cadf95"/>
<circle cx="385.44" cy="45.63" r="1.1" stroke="#cadf95"/>
<circle cx="387.44" cy="45.73" r="1.1" stroke="#cadf95"/>
<circle cx="389.42" cy="45.84" r="1.1" stroke="#c9df95"/>
<circle cx="391.38" cy="45.94" r="1.1" stroke="#c9df95"/>
<circle cx="393.31" cy="46.04" r="1.1" stroke="#c9df94"/>
<circle cx="395.21" cy="46.14" r="1.1" stroke="#c9df94"/>
<circle cx="397.09" cy="46.24" r="1.1" stroke="#c9df94"/>
<circle cx="398.95" cy="46.34" r="1.1" stroke="#c9df94"/>
<circle cx="400.78" cy="46.44" r="1.1" stroke="#c9df93"/>
<circle cx="402.58" cy="46.55" r="1.1" stroke="#c9df93"/>
<circle cx="404.37" cy="46.65" r="1.1" stroke="#c9df93"/>
<circle cx="406.13" cy="46.76" r="1.1" stroke="#c9df93"/>
<circle cx="407.87" cy="46.86" r="1.1" stroke="#c8df93"/>
<circle cx="409.58" cy="46.97" r="1.1" stroke="#c8df92"/>
<circle cx="411.27" cy="47.09" r="1.1" stroke="#c8df92"/>
<circle cx="412.94" cy="47.2" r="1.1" stroke="#c8df92"/>
<circle cx="414.59" cy="47.32" r="1.1" stroke="#c8df92"/>
<circle cx="416.21" cy="47.45" r="1.1" stroke="#c8df92"/>
<circle cx="417.82" cy="47.57" r="1.1" stroke="#c8de91"/>
<circle cx="419.4" cy="47.7" r="1.1" stroke="#c8de91"/>
<circle cx="420.96" cy="47.82" r="1.1" stroke="#c8de91"/>
<circle cx="422.51" cy="47.95" r="1.1" stroke="#c8de91"/>
<circle cx="424.03" cy="48.08" r="1.1" stroke="#c8de90"/>
<circle cx="425.53" cy="48.2" r="1.1" stroke="#c7de90"/>
<circle cx="427.01" cy="48.33" r="1.1" stroke="#c7de90"/>
<circle cx="428.48" cy="48.46" r="1.1" stroke="#c7de90"/>
<circle cx="429.92" cy="48.58" r="1.1" stroke="#c7de90"/>
<circle cx="431.35" cy="48.7" r="1.1" stroke="#c7de8f"/>
<circle cx="432.75" cy="48.82" r="1.1" stroke="#c7de8f"/>
<circle cx="434.14" cy="48.94" r="1.1" stroke="#c7de8f"/>
<circle cx="435.52" cy="49.06" r="1.1" stroke="#c7de8f"/>
<circle cx="436.87" cy="49.17" r="1.1" stroke="#c7de8f"/>
<circle cx="438.21" cy="49.28" r="1.1" stroke="#c7de8e"/>
<circle cx="439.52" cy="49.38" r="1.1" stroke="#c6de8e"/>
<circle cx="440.83" cy="49.49" r="1.1" stroke="#c6de8e"/>
<circle cx="442.11" cy="49.59" r="1.1" stroke="#c6de8e"/>
<circle cx="443.38" cy="49.69" r="1.1" stroke="#c6de8e"/>
<circle cx="444.63" cy="49.78" r="1.1" stroke="#c6de8d"/>
<circle cx="445.87" cy="49.88" r="1.1" stroke="#c6de8d"/>
<circle cx="447.09" cy="49.98" r="1.1" stroke="#c6de8d"/>
<circle cx="448.29" cy="50.07" r="1.1" stroke="#c6de8d"/>
<circle cx="449.48" cy="50.16" r="1.1" stroke="#c6de8d"/>
<circle cx="450.65" cy="50.25" r="1.1" stroke="#c6de8c"/>
<circle cx="451.81" cy="50.34" r="1.1" stroke="#c6de8c"/>
<circle cx="452.96" cy="50.43" r="1.1" stroke="#c6de8c"/>
<circle cx="454.08" cy="50.52" r="1.1" stroke="#c5de8c"/>
<circle cx="455.2" cy="50.6" r="1.1" stroke="#c5de8c"/>
<circle cx="456.3" cy="50.69" r="1.1" stroke="#c5de8b"/>
<circle cx="457.38" cy="50.77" r="1.1" stroke="#c5de8b"/>
<circle cx="458.45" cy="50.85" r="1.1" stroke="#c5de8b"/>
<circle cx="459.51" cy="50.93" r="1.1" stroke="#c5de8b"/>
<circle cx="460.55" cy="51.01" r="1.1" stroke="#c5de8b"/>
<circle cx="461.58" cy="51.09" r="1.1" stroke="#c5de8b"/>
<circle cx="462.6" cy="51.17" r="1.1" stroke="#c5de8a"/>
<circle cx="463.6" cy="51.24" r="1.1" stroke="#c5de8a"/>
<circle cx="464.59" cy="51.31" r="1.1" stroke="#c5de8a"/>
<circle cx="465.57" cy="51.39" r="1.1" stroke="#c5de8a"/>
<circle cx="466.54" cy="51.46" r="1.1" stroke="#c5de8a"/>
<circle cx="467.49" cy="51.53" r="1.1" stroke="#c5de8a"/>
<circle cx="468.44" cy="51.6" r="1.1" stroke="#c4de89"/>
<circle cx="469.38" cy="51.67" r="1.1" stroke="#c4de89"/>
<circle cx="470.33" cy="51.74" r="1.1" stroke="#c4de89"/>
<circle cx="471.28" cy="51.81" r="1.1" stroke="#c4de89"/>
<circle cx="472.23" cy="51.87" r="1.1" stroke="#c4de89"/>
<circle cx="473.17" cy="51.94" r="1.1" stroke="#c4de89"/>
<circle cx="474.12" cy="52.01" r="1.1" stroke="#c4de89"/>
<circle cx="475.07" cy="52.08" r="1.1" stroke="#c4dd88"/>
<circle cx="476.02" cy="52.14" r="1.1" stroke="#c4dd88"/>
<circle cx="476.96" cy="52.21" r="1.1" stroke="#c4dd88"/>
<circle cx="477.91" cy="52.28" r="1.1" stroke="#c4dd88"/>
<circle cx="478.86" cy="52.34" r="1.1" stroke="#c4dd88"/>
<circle cx="479.81" cy="52.41" r="1.1" stroke="#c4dd88"/>
<circle cx="480.75" cy="52.48" r="1.1" stroke="#c4dd87"/>
<circle cx="481.7" cy="52.55" r="1.1" stroke="#c3dd87"/>
<circle cx="482.65" cy="52.61" r="1.1" stroke="#c3dd87"/>
<circle cx="483.6" cy="52.68" r="1.1" stroke="#c3dd87"/>
<circle cx="484.54" cy="52.75" r="1.1" stroke="#c3dd87"/>
<circle cx="485.49" cy="52.81" r="1.1" stroke="#c3dd87"/>
<circle cx="486.44" cy="52.88" r="1.1" stroke="#c3dd86"/>
<circle cx="487.39" cy="52.94" r="1.1" stroke="#c3dd86"/>
<circle cx="488.34" cy="53.01" r="1.1" stroke="#c3dd86"/>
<circle cx="489.28" cy="53.07" r="1.1" stroke="#c3dd86"/>
<circle cx="490.23" cy="53.14" r="1.1" stroke="#c3dd86"/>
<circle cx="491.18" cy="53.2" r="1.1" stroke="#c3dd86"/>
<circle cx="492.13" cy="53.27" r="1.1" stroke="#c3dd85"/>
<circle cx="493.07" cy="53.33" r="1.1" stroke="#c3dd85"/>
<circle cx="494.02" cy="53.4" r="1.1" stroke="#c2dd85"/>
<circle cx="494.97" cy="53.46" r="1.1" stroke="#c2dd85"/>
<circle cx="495.92" cy="53.52" r="1.1" stroke="#c2dd85"/>
<circle cx="496.87" cy="53.59" r="1.1" stroke="#c2dd85"/>
<circle cx="497.81" cy="53.65" r="1.1" stroke="#c2dd84"/>
<circle cx="498.76" cy="53.71" r="1.1" stroke="#c2dd84"/>
<circle cx="499.71" cy="53.77" r="1.1" stroke="#c2dd84"/>
<circle cx="500.66" cy="53.83" r="1.1" stroke="#c2dd84"/>
<circle cx="501.61" cy="53.89" r="1.1" stroke="#c2dd84"/>
<circle cx="502.55" cy="53.95" r="1.1" stroke="#c2dd84"/>
<circle cx="503.5" cy="54.01" r="1.1" stroke="#c2dd84"/>
<circle cx="504.45" cy="54.07" r="1.1" stroke="#c2dd84"/>
<circle cx="505.4" cy="54.13" r="1.1" stroke="#c2dd84"/>
<circle cx="506.35" cy="54.19" r="1.1" stroke="#c2dd84"/>
<circle cx="507.3" cy="54.24" r="1.1" stroke="#c2dd84"/>
<circle cx="508.24" cy="54.3" r="1.1" stroke="#c2dd84"/>
<circle cx="509.19" cy="54.35" r="1.1" stroke="#c2dd84"/>
<circle cx="510.14" cy="54.41" r="1.1" stroke="#c2dd84"/>
<circle cx="511.09" cy="54.46" r="1.1" stroke="#c2dd84"/>
<circle cx="512.04" cy="54.51" r="1.1" stroke="#c2dd84"/>
<circle cx="512.99" cy="54.57" r="1.1" stroke="#c2dd84"/>
<circle cx="513.94" cy="54.61" r="1.1" stroke="#c2dd84"/>
<circle cx="514.88" cy="54.66" r="1.1" stroke="#c2dd84"/>
<circle cx="515.83" cy="54.71" r="1.1" stroke="#c2dd84"/>
<circle cx="516.78" cy="54.76" r="1.1" stroke="#c2dd84"/>
<circle cx="517.73" cy="54.81" r="1.1" stroke="#c2dd84"/>
<circle cx="518.68" cy="54.86" r="1.1" stroke="#c2dd84"/>
<circle cx="519.63" cy="54.9" r="1.1" stroke="#c2dd84"/>
<circle cx="520.58" cy="54.95" r="1.1" stroke="#c2dd84"/>
<circle cx="521.53" cy="54.99" r="1.1" stroke="#c2dd84"/>
<circle cx="522.47" cy="55.04" r="1.1" stroke="#c2dd84"/>
<circle cx="523.42" cy="55.08" r="1.1" stroke="#c2dd84"/>
<circle cx="524.37" cy="55.13" r="1.1" stroke="#c2dd84"/>
<circle cx="525.32" cy="55.17" r="1.1" stroke="#c2dd84"/>
<circle cx="526.27" cy="55.22" r="1.1" stroke="#c2dd84"/>
<circle cx="527.22" cy="55.26" r="1.1" stroke="#c2dd84"/>
<circle cx="528.17" cy="55.3" r="1.1" stroke="#c2dd84"/>
<circle cx="529.12" cy="55.34" r="1.1" stroke="#c2dd84"/>
<circle cx="530.07" cy="55.39" r="1.1" stroke="#c2dd84"/>
<circle cx="531.02" cy="55.43" r="1.1" stroke="#c2dd84"/>
<circle cx="531.96" cy="55.47" r="1.1" stroke="#c2dd84"/>
<circle cx="532.91" cy="55.51" r="1.1" stroke="#c2dd84"/>
<circle cx="533.86" cy="55.55" r="1.1" stroke="#c2dd84"/>
<circle cx="534.81" cy="55.6" r="1.1" stroke="#c2dd84"/>
<circle cx="535.76" cy="55.64" r="1.1" stroke="#c2dd84"/>
<circle cx="536.71" cy="55.68" r="1.1" stroke="#c2dd84"/>
<circle cx="537.66" cy="55.72" r="1.1" stroke="#c2dd84"/>
<circle cx="538.61" cy="55.76" r="1.1" stroke="#c2dd84"/>
<circle cx="539.56" cy="55.8" r="1.1" stroke="#c2dd84"/>
<circle cx="540.51" cy="55.84" r="1.1" stroke="#c2dd84"/>
<circle cx="541.46" cy="55.89" r="1.1" stroke="#c2dd84"/>
<circle cx="542.4" cy="55.93" r="1.1" stroke="#c2dd84"/>
<circle cx="543.35" cy="55.97" r="1.1" stroke="#c2dd84"/>
</g>
<g fill="none" stroke-width="0.5">
<circle cx="363" cy="62.5" r="1.1" stroke="#a6dcb4"/>
<circle cx="365.3" cy="62.49" r="1.1" stroke="#a6dcb4"/>
<circle cx="367.57" cy="62.48" r="1.1" stroke="#a6dcb4"/>
<circle cx="369.81" cy="62.48" r="1.1" stroke="#a5dcb4"/>
<circle cx="372.03" cy="62.47" r="1.1" stroke="#a5dcb3"/>
<circle cx="374.21" cy="62.46" r="1.1" stroke="#a5dcb3"/>
<circle cx="376.36" cy="62.45" r="1.1" stroke="#a5dcb3"/>
<circle cx="378.49" cy="62.45" r="1.1" stroke="#a5dcb3"/>
<circle cx="380.59" cy="62.44" r="1.1" stroke="#a4dcb2"/>
<circle cx="382.66" cy="62.43" r="1.1" stroke="#a4dcb2"/>
<circle cx="384.71" cy="62.43" r="1.1" stroke="#a4dcb2"/>
<circle cx="386.73" cy="62.42" r="1.1" stroke="#a4dcb2"/>
<circle cx="388.72" cy="62.42" r="1.1" stroke="#a3dcb2"/>
<circle cx="390.69" cy="62.41" r="1.1" stroke="#a3dcb1"/>
<circle cx="392.63" cy="62.41" r="1.1" stroke="#a3dcb1"/>
<circle cx="394.54" cy="62.4" r="1.1" stroke="#a2dcb1"/>
<circle cx="396.44" cy="62.4" r="1.1" stroke="#a2dcb1"/>
<circle cx="398.3" cy="62.4" r="1.1" stroke="#a2dcb0"/>
<circle cx="400.14" cy="62.4" r="1.1" stroke="#a2dcb0"/>
<circle cx="401.96" cy="62.4" r="1.1" stroke="#a1dcb0"/>
<circle cx="403.76" cy="62.39" r="1.1" stroke="#a1dcb0"/>
<circle cx="405.53" cy="62.39" r="1.1" stroke="#a1dcaf"/>
<circle cx="407.28" cy="62.38" r="1.1" stroke="#a1dcaf"/>
<circle cx="409" cy="62.37" r="1.1" stroke="#a0dcaf"/>
<circle cx="410.7" cy="62.36" r="1.1" stroke="#a0dcaf"/>
<circle cx="412.38" cy="62.35" r="1.1" stroke="#a0dcae"/>
<circle cx="414.04" cy="62.34" r="1.1" stroke="#a0dcae"/>
<circle cx="415.68" cy="62.33" r="1.1" stroke="#9fdcae"/>
<circle cx="417.3" cy="62.33" r="1.1" stroke="#9fdcae"/>
<circle cx="418.89" cy="62.32" r="1.1" stroke="#9fdcad"/>
<circle cx="420.47" cy="62.32" r="1.1" stroke="#9fdcad"/>
<circle cx="422.02" cy="62.31" r="1.1" stroke="#9edcad"/>
<circle cx="423.55" cy="62.31" r="1.1" stroke="#9edcad"/>
<circle cx="425.07" cy="62.32" r="1.1" stroke="#9edcad"/>
<circle cx="426.56" cy="62.32" r="1.1" stroke="#9edcac"/>
<circle cx="428.04" cy="62.33" r="1.1" stroke="#9ddcac"/>
<circle cx="429.49" cy="62.34" r="1.1" stroke="#9ddcac"/>
<circle cx="430.93" cy="62.35" r="1.1" stroke="#9ddcac"/>
<circle cx="432.35" cy="62.37" r="1.1" stroke="#9ddcab"/>
<circle cx="433.75" cy="62.38" r="1.1" stroke="#9cdcab"/>
<circle cx="435.13" cy="62.4" r="1.1" stroke="#9cdcab"/>
<circle cx="436.49" cy="62.43" r="1.1" stroke="#9cdcab"/>
<circle cx="437.84" cy="62.45" r="1.1" stroke="#9cdcab"/>
<circle cx="439.16" cy="62.48" r="1.1" stroke="#9bdcaa"/>
<circle cx="440.47" cy="62.51" r="1.1" stroke="#9bdcaa"/>
<circle cx="441.77" cy="62.55" r="1.1" stroke="#9bdbaa"/>
<circle cx="443.04" cy="62.58" r="1.1" stroke="#9bdbaa"/>
<circle cx="444.3" cy="62.62" r="1.1" stroke="#9bdbaa"/>
<circle cx="445.55" cy="62.66" r="1.1" stroke="#9adba9"/>
<circle cx="446.77" cy="62.7" r="1.1" stroke="#9adba9"/>
<circle cx="447.99" cy="62.74" r="1.1" stroke="#9adba9"/>
<circle cx="449.18" cy="62.79" r="1.1" stroke="#9adba9"/>
<circle cx="450.36" cy="62.83" r="1.1" stroke="#99dba9"/>
<circle cx="451.53" cy="62.88" r="1.1" stroke="#99dba8"/>
<circle cx="452.67" cy="62.92" r="1.1" stroke="#99dba8"/>
<circle cx="453.81" cy="62.97" r="1.1" stroke="#99dba8"/>
<circle cx="454.93" cy="63.02" r="1.1" stroke="#99dba8"/>
<circle cx="456.03" cy="63.07" r="1.1" stroke="#98dba8"/>
<circle cx="457.12" cy="63.11" r="1.1" stroke="#98dba7"/>
<circle cx="458.2" cy="63.16" r="1.1" stroke="#98dba7"/>
<circle cx="459.26" cy="63.21" r="1.1" stroke="#98dba7"/>
<circle cx="460.31" cy="63.26" r="1.1" stroke="#98dba7"/>
<circle cx="461.35" cy="63.31" r="1.1" stroke="#97dba7"/>
<circle cx="462.37" cy="63.35" r="1.1" stroke="#97dba7"/>
<circle cx="463.38" cy="63.4" r="1.1" stroke="#97dba6"/>
<circle cx="464.37" cy="63.45" r="1.1" stroke="#97dba6"/>
<circle cx="465.35" cy="63.5" r="1.1" stroke="#97dba6"/>
<circle cx="466.32" cy="63.55" r="1.1" stroke="#97dba6"/>
<circle cx="467.28" cy="63.59" r="1.1" stroke="#96dba6"/>
<circle cx="468.23" cy="63.64" r="1.1" stroke="#96dba6"/>
<circle cx="469.18" cy="63.69" r="1.1" stroke="#96dba5"/>
<circle cx="470.12" cy="63.73" r="1.1" stroke="#96dba5"/>
<circle cx="471.07" cy="63.78" r="1.1" stroke="#96dba5"/>
<circle cx="472.02" cy="63.83" r="1.1" stroke="#95dba5"/>
<circle cx="472.97" cy="63.87" r="1.1" stroke="#95dba5"/>
<circle cx="473.92" cy="63.92" r="1.1" stroke="#95dba5"/>
<circle cx="474.87" cy="63.97" r="1.1" stroke="#95dba4"/>
<circle cx="475.82" cy="64.01" r="1.1" stroke="#95dba4"/>
<circle cx="476.77" cy="64.06" r="1.1" stroke="#95dba4"/>
<circle cx="477.72" cy="64.11" r="1.1" stroke="#94dba4"/>
<circle cx="478.66" cy="64.15" r="1.1" stroke="#94dba4"/>
<circle cx="479.61" cy="64.2" r="1.1" stroke="#94dba4"/>
<circle cx="480.56" cy="64.24" r="1.1" stroke="#94dba3"/>
<circle cx="481.51" cy="64.29" r="1.1" stroke="#94dba3"/>
<circle cx="482.46" cy="64.33" r="1.1" stroke="#93dba3"/>
<circle cx="483.41" cy="64.38" r="1.1" stroke="#93dba3"/>
<circle cx="484.36" cy="64.42" r="1.1" stroke="#93dba3"/>
<circle cx="485.31" cy="64.47" r="1.1" stroke="#93dba3"/>
<circle cx="486.26" cy="64.51" r="1.1" stroke="#93dba2"/>
<circle cx="487.2" cy="64.56" r="1.1" stroke="#93dba2"/>
<circle cx="488.15" cy="64.6" r="1.1" stroke="#92dba2"/>
<circle cx="489.1" cy="64.64" r="1.1" stroke="#92dba2"/>
<circle cx="490.05" cy="64.69" r="1.1" stroke="#92dba2"/>
<circle cx="491" cy="64.73" r="1.1" stroke="#92dba2"/>
<circle cx="491.95" cy="64.78" r="1.1" stroke="#92dba1"/>
<circle cx="492.9" cy="64.82" r="1.1" stroke="#91dba1"/>
<circle cx="493.85" cy="64.87" r="1.1" stroke="#91dba1"/>
<circle cx="494.8" cy="64.91" r="1.1" stroke="#91dba1"/>
<circle cx="495.75" cy="64.96" r="1.1" stroke="#91dba1"/>
<circle cx="496.69" cy="65" r="1.1" stroke="#91dba1"/>
<circle cx="497.64" cy="65.05" r="1.1" stroke="#90dba0"/>
<circle cx="498.59" cy="65.09" r="1.1" stroke="#90dba0"/>
<circle cx="499.54" cy="65.14" r="1.1" stroke="#90dba0"/>
<circle cx="500.49" cy="65.18" r="1.1" stroke="#90dba0"/>
<circle cx="501.44" cy="65.23" r="1.1" stroke="#90dba0"/>
<circle cx="502.39" cy="65.28" r="1.1" stroke="#90dba0"/>
<circle cx="503.34" cy="65.32" r="1.1" stroke="#90dba0"/>
<circle cx="504.29" cy="65.37" r="1.1" stroke="#90dba0"/>
<circle cx="505.23" cy="65.41" r="1.1" stroke="#90dba0"/>
<circle cx="506.18" cy="65.46" r="1.1" stroke="#90dba0"/>
<circle cx="507.13" cy="65.5" r="1.1" stroke="#90dba0"/>
<circle cx="508.08" cy="65.55" r="1.1" stroke="#90dba0"/>
<circle cx="509.03" cy="65.6" r="1.1" stroke="#90dba0"/>
<circle cx="509.98" cy="65.64" r="1.1" stroke="#90dba0"/>
<circle cx="510.93" cy="65.69" r="1.1" stroke="#90dba0"/>
<circle cx="511.88" cy="65.73" r="1.1" stroke="#90dba0"/>
<circle cx="512.83" cy="65.78" r="1.1" stroke="#90dba0"/>
<circle cx="513.77" cy="65.83" r="1.1" stroke="#90dba0"/>
<circle cx="514.72" cy="65.87" r="1.1" stroke="#90dba0"/>
<circle cx="515.67" cy="65.92" r="1.1" stroke="#90dba0"/>
<circle cx="516.62" cy="65.96" r="1.1" stroke="#90dba0"/>
<circle cx="517.57" cy="66.01" r="1.1" stroke="#90dba0"/>
<circle cx="518.52" cy="66.06" r="1.1" stroke="#90dba0"/>
<circle cx="519.47" cy="66.1" r="1.1" stroke="#90dba0"/>
<circle cx="520.42" cy="66.15" r="1.1" stroke="#90dba0"/>
<circle cx="521.37" cy="66.2" r="1.1" stroke="#90dba0"/>
<circle cx="522.31" cy="66.24" r="1.1" stroke="#90dba0"/>
<circle cx="523.26" cy="66.29" r="1.1" stroke="#90dba0"/>
<circle cx="524.21" cy="66.33" r="1.1" stroke="#90dba0"/>
<circle cx="525.16" cy="66.38" r="1.1" stroke="#90dba0"/>
<circle cx="526.11" cy="66.43" r="1.1" stroke="#90dba0"/>
<circle cx="527.06" cy="66.47" r="1.1" stroke="#90dba0"/>
<circle cx="528.01" cy="66.52" r="1.1" stroke="#90dba0"/>
<circle cx="528.96" cy="66.57" r="1.1" stroke="#90dba0"/>
<circle cx="529.91" cy="66.61" r="1.1" stroke="#90dba0"/>
<circle cx="530.85" cy="66.66" r="1.1" stroke="#90dba0"/>
<circle cx="531.8" cy="66.71" r="1.1" stroke="#90dba0"/>
<circle cx="532.75" cy="66.75" r="1.1" stroke="#90dba0"/>
<circle cx="533.7" cy="66.8" r="1.1" stroke="#90dba0"/>
<circle cx="534.65" cy="66.84" r="1.1" stroke="#90dba0"/>
<circle cx="535.6" cy="66.89" r="1.1" stroke="#90dba0"/>
<circle cx="536.55" cy="66.94" r="1.1" stroke="#90dba0"/>
<circle cx="537.5" cy="66.98" r="1.1" stroke="#90dba0"/>
<circle cx="538.45" cy="67.03" r="1.1" stroke="#90dba0"/>
<circle cx="539.39" cy="67.08" r="1.1" stroke="#90dba0"/>
<circle cx="540.34" cy="67.12" r="1.1" stroke="#90dba0"/>
<circle cx="541.29" cy="67.17" r="1.1" stroke="#90dba0"/>
<circle cx="542.24" cy="67.21" r="1.1" stroke="#90dba0"/>
<circle cx="543.19" cy="67.26" r="1.1" stroke="#90dba0"/>
</g>
<g fill="none" stroke-width="0.5">
<circle cx="352" cy="80.5" r="1.1" stroke="#86d6c6"/>
<circle cx="354.44" cy="80.3" r="1.1" stroke="#86d6c6"/>
<circle cx="356.84" cy="80.1" r="1.1" stroke="#86d6c6"/>
<circle cx="359.21" cy="79.9" r="1.1" stroke="#85d6c5"/>
<circle cx="361.55" cy="79.71" r="1.1" stroke="#85d6c5"/>
<circle cx="363.87" cy="79.51" r="1.1" stroke="#85d6c5"/>
<circle cx="366.15" cy="79.32" r="1.1" stroke="#85d6c5"/>
<circle cx="368.4" cy="79.13" r="1.1" stroke="#85d6c5"/>
<circle cx="370.62" cy="78.95" r="1.1" stroke="#84d6c4"/>
<circle cx="372.82" cy="78.76" r="1.1" stroke="#84d6c4"/>
<circle cx="374.98" cy="78.57" r="1.1" stroke="#84d6c4"/>
<circle cx="377.12" cy="78.38" r="1.1" stroke="#84d6c4"/>
<circle cx="379.23" cy="78.2" r="1.1" stroke="#83d6c3"/>
<circle cx="381.31" cy="78.02" r="1.1" stroke="#83d6c3"/>
<circle cx="383.37" cy="77.84" r="1.1" stroke="#83d6c3"/>
<circle cx="385.4" cy="77.67" r="1.1" stroke="#83d6c3"/>
<circle cx="387.4" cy="77.51" r="1.1" stroke="#82d6c2"/>
<circle cx="389.38" cy="77.35" r="1.1" stroke="#82d6c2"/>
<circle cx="391.33" cy="77.2" r="1.1" stroke="#82d6c2"/>
<circle cx="393.26" cy="77.05" r="1.1" stroke="#82d6c2"/>
<circle cx="395.16" cy="76.9" r="1.1" stroke="#81d6c1"/>
<circle cx="397.03" cy="76.76" r="1.1" stroke="#81d6c1"/>
<circle cx="398.89" cy="76.62" r="1.1" stroke="#81d6c1"/>
<circle cx="400.72" cy="76.48" r="1.1" stroke="#81d6c1"/>
<circle cx="402.52" cy="76.34" r="1.1" stroke="#80d6c0"/>
<circle cx="404.31" cy="76.21" r="1.1" stroke="#80d6c0"/>
<circle cx="406.07" cy="76.09" r="1.1" stroke="#80d6c0"/>
<circle cx="407.8" cy="75.97" r="1.1" stroke="#80d6c0"/>
<circle cx="409.52" cy="75.85" r="1.1" stroke="#7fd6bf"/>
<circle cx="411.21" cy="75.74" r="1.1" stroke="#7fd6bf"/>
<circle cx="412.88" cy="75.63" r="1.1" stroke="#7fd6bf"/>
<circle cx="414.53" cy="75.53" r="1.1" stroke="#7fd6bf"/>
<circle cx="416.16" cy="75.43" r="1.1" stroke="#7ed6be"/>
<circle cx="417.76" cy="75.34" r="1.1" stroke="#7ed6be"/>
<circle cx="419.35" cy="75.25" r="1.1" stroke="#7ed6be"/>
<circle cx="420.92" cy="75.17" r="1.1" stroke="#7ed6be"/>
<circle cx="422.46" cy="75.09" r="1.1" stroke="#7dd6bd"/>
<circle cx="423.99" cy="75.01" r="1.1" stroke="#7dd6bd"/>
<circle cx="425.5" cy="74.94" r="1.1" stroke="#7dd6bd"/>
<circle cx="426.98" cy="74.87" r="1.1" stroke="#7dd6bd"/>
<circle cx="428.45" cy="74.8" r="1.1" stroke="#7cd6bc"/>
<circle cx="429.9" cy="74.74" r="1.1" stroke="#7cd6bc"/>
<circle cx="431.33" cy="74.67" r="1.1" stroke="#7cd6bc"/>
<circle cx="432.74" cy="74.61" r="1.1" stroke="#7cd6bc"/>
<circle cx="434.13" cy="74.55" r="1.1" stroke="#7bd6bb"/>
<circle cx="435.51" cy="74.49" r="1.1" stroke="#7bd6bb"/>
<circle cx="436.87" cy="74.43" r="1.1" stroke="#7bd6bb"/>
<circle cx="438.21" cy="74.38" r="1.1" stroke="#7bd6bb"/>
<circle cx="439.53" cy="74.32" r="1.1" stroke="#7bd6bb"/>
<circle cx="440.83" cy="74.26" r="1.1" stroke="#7ad6ba"/>
<circle cx="442.12" cy="74.2" r="1.1" stroke="#7ad6ba"/>
<circle cx="443.39" cy="74.14" r="1.1" stroke="#7ad6ba"/>
<circle cx="444.65" cy="74.07" r="1.1" stroke="#7ad6ba"/>
<circle cx="445.88" cy="74" r="1.1" stroke="#7ad6ba"/>
<circle cx="447.1" cy="73.93" r="1.1" stroke="#79d6b9"/>
<circle cx="448.31" cy="73.87" r="1.1" stroke="#79d6b9"/>
<circle cx="449.5" cy="73.82" r="1.1" stroke="#79d6b9"/>
<circle cx="450.68" cy="73.77" r="1.1" stroke="#79d6b9"/>
<circle cx="451.84" cy="73.73" r="1.1" stroke="#79d6b9"/>
<circle cx="452.98" cy="73.7" r="1.1" stroke="#78d6b8"/>
<circle cx="454.11" cy="73.67" r="1.1" stroke="#78d6b8"/>
<circle cx="455.23" cy="73.65" r="1.1" stroke="#78d6b8"/>
<circle cx="456.33" cy="73.63" r="1.1" stroke="#78d6b8"/>
<circle cx="457.42" cy="73.62" r="1.1" stroke="#78d6b8"/>
<circle cx="458.49" cy="73.61" r="1.1" stroke="#77d6b7"/>
<circle cx="459.55" cy="73.6" r="1.1" stroke="#77d6b7"/>
<circle cx="460.6" cy="73.6" r="1.1" stroke="#77d6b7"/>
<circle cx="461.63" cy="73.59" r="1.1" stroke="#77d6b7"/>
<circle cx="462.65" cy="73.59" r="1.1" stroke="#77d6b7"/>
<circle cx="463.65" cy="73.58" r="1.1" stroke="#77d6b7"/>
<circle cx="464.65" cy="73.58" r="1.1" stroke="#76d6b6"/>
<circle cx="465.63" cy="73.58" r="1.1" stroke="#76d6b6"/>
<circle cx="466.59" cy="73.57" r="1.1" stroke="#76d6b6"/>
<circle cx="467.55" cy="73.57" r="1.1" stroke="#76d6b6"/>
<circle cx="468.5" cy="73.57" r="1.1" stroke="#76d6b6"/>
<circle cx="469.45" cy="73.57" r="1.1" stroke="#76d6b6"/>
<circle cx="470.4" cy="73.57" r="1.1" stroke="#75d6b5"/>
<circle cx="471.35" cy="73.56" r="1.1" stroke="#75d6b5"/>
<circle cx="472.3" cy="73.56" r="1.1" stroke="#75d6b5"/>
<circle cx="473.25" cy="73.56" r="1.1" stroke="#75d6b5"/>
<circle cx="474.2" cy="73.56" r="1.1" stroke="#75d6b5"/>
<circle cx="475.15" cy="73.56" r="1.1" stroke="#75d6b5"/>
<circle cx="476.1" cy="73.57" r="1.1" stroke="#74d6b4"/>
<circle cx="477.05" cy="73.57" r="1.1" stroke="#74d6b4"/>
<circle cx="478" cy="73.57" r="1.1" stroke="#74d6b4"/>
<circle cx="478.95" cy="73.57" r="1.1" stroke="#74d6b4"/>
<circle cx="479.9" cy="73.58" r="1.1" stroke="#74d6b4"/>
<circle cx="480.85" cy="73.58" r="1.1" stroke="#73d6b3"/>
<circle cx="481.8" cy="73.58" r="1.1" stroke="#73d6b3"/>
<circle cx="482.75" cy="73.59" r="1.1" stroke="#73d6b3"/>
<circle cx="483.7" cy="73.6" r="1.1" stroke="#73d6b3"/>
<circle cx="484.65" cy="73.6" r="1.1" stroke="#73d6b3"/>
<circle cx="485.6" cy="73.61" r="1.1" stroke="#73d6b3"/>
<circle cx="486.55" cy="73.62" r="1.1" stroke="#72d6b2"/>
<circle cx="487.5" cy="73.63" r="1.1" stroke="#72d6b2"/>
<circle cx="488.45" cy="73.64" r="1.1" stroke="#72d6b2"/>
<circle cx="489.4" cy="73.65" r="1.1" stroke="#72d6b2"/>
<circle cx="490.35" cy="73.66" r="1.1" stroke="#72d6b2"/>
<circle cx="491.3" cy="73.67" r="1.1" stroke="#72d6b2"/>
<circle cx="492.25" cy="73.69" r="1.1" stroke="#71d6b1"/>
<circle cx="493.2" cy="73.7" r="1.1" stroke="#71d6b1"/>
<circle cx="494.15" cy="73.72" r="1.1" stroke="#71d6b1"/>
<circle cx="495.1" cy="73.73" r="1.1" stroke="#71d6b1"/>
<circle cx="496.05" cy="73.75" r="1.1" stroke="#71d6b1"/>
<circle cx="497" cy="73.77" r="1.1" stroke="#71d6b1"/>
<circle cx="497.95" cy="73.79" r="1.1" stroke="#70d6b0"/>
<circle cx="498.9" cy="73.82" r="1.1" stroke="#70d6b0"/>
<circle cx="499.85" cy="73.84" r="1.1" stroke="#70d6b0"/>
<circle cx="500.8" cy="73.86" r="1.1" stroke="#70d6b0"/>
<circle cx="501.75" cy="73.89" r="1.1" stroke="#70d6b0"/>
<circle cx="502.69" cy="73.92" r="1.1" stroke="#70d6b0"/>
<circle cx="503.64" cy="73.95" r="1.1" stroke="#70d6b0"/>
<circle cx="504.59" cy="73.99" r="1.1" stroke="#70d6b0"/>
<circle cx="505.54" cy="74.02" r="1.1" stroke="#70d6b0"/>
<circle cx="506.49" cy="74.07" r="1.1" stroke="#70d6b0"/>
<circle cx="507.44" cy="74.11" r="1.1" stroke="#70d6b0"/>
<circle cx="508.39" cy="74.15" r="1.1" stroke="#70d6b0"/>
<circle cx="509.34" cy="74.2" r="1.1" stroke="#70d6b0"/>
<circle cx="510.29" cy="74.25" r="1.1" stroke="#70d6b0"/>
<circle cx="511.24" cy="74.3" r="1.1" stroke="#70d6b0"/>
<circle cx="512.18" cy="74.35" r="1.1" stroke="#70d6b0"/>
<circle cx="513.13" cy="74.41" r="1.1" stroke="#70d6b0"/>
<circle cx="514.08" cy="74.47" r="1.1" stroke="#70d6b0"/>
<circle cx="515.03" cy="74.53" r="1.1" stroke="#70d6b0"/>
<circle cx="515.98" cy="74.59" r="1.1" stroke="#70d6b0"/>
<circle cx="516.93" cy="74.65" r="1.1" stroke="#70d6b0"/>
<circle cx="517.87" cy="74.72" r="1.1" stroke="#70d6b0"/>
<circle cx="518.82" cy="74.79" r="1.1" stroke="#70d6b0"/>
<circle cx="519.77" cy="74.85" r="1.1" stroke="#70d6b0"/>
<circle cx="520.72" cy="74.92" r="1.1" stroke="#70d6b0"/>
<circle cx="521.66" cy="74.99" r="1.1" stroke="#70d6b0"/>
<circle cx="522.61" cy="75.06" r="1.1" stroke="#70d6b0"/>
<circle cx="523.56" cy="75.13" r="1.1" stroke="#70d6b0"/>
<circle cx="524.51" cy="75.21" r="1.1" stroke="#70d6b0"/>
<circle cx="525.45" cy="75.28" r="1.1" stroke="#70d6b0"/>
<circle cx="526.4" cy="75.35" r="1.1" stroke="#70d6b0"/>
<circle cx="527.35" cy="75.43" r="1.1" stroke="#70d6b0"/>
<circle cx="528.29" cy="75.5" r="1.1" stroke="#70d6b0"/>
<circle cx="529.24" cy="75.58" r="1.1" stroke="#70d6b0"/>
<circle cx="530.19" cy="75.66" r="1.1" stroke="#70d6b0"/>
<circle cx="531.13" cy="75.74" r="1.1" stroke="#70d6b0"/>
<circle cx="532.08" cy="75.82" r="1.1" stroke="#70d6b0"/>
<circle cx="533.03" cy="75.89" r="1.1" stroke="#70d6b0"/>
<circle cx="533.97" cy="75.97" r="1.1" stroke="#70d6b0"/>
<circle cx="534.92" cy="76.05" r="1.1" stroke="#70d6b0"/>
<circle cx="535.87" cy="76.13" r="1.1" stroke="#70d6b0"/>
<circle cx="536.81" cy="76.21" r="1.1" stroke="#70d6b0"/>
<circle cx="537.76" cy="76.29" r="1.1" stroke="#70d6b0"/>
<circle cx="538.71" cy="76.37" r="1.1" stroke="#70d6b0"/>
<circle cx="539.65" cy="76.45" r="1.1" stroke="#70d6b0"/>
<circle cx="540.6" cy="76.53" r="1.1" stroke="#70d6b0"/>
<circle cx="541.55" cy="76.61" r="1.1" stroke="#70d6b0"/>
<circle cx="542.49" cy="76.68" r="1.1" stroke="#70d6b0"/>
<circle cx="543.44" cy="76.76" r="1.1" stroke="#70d6b0"/>
</g>
<g fill="none" stroke-width="0.5">
<circle cx="342" cy="98.6" r="1.1" stroke="#86cce2"/>
<circle cx="344.55" cy="98.22" r="1.1" stroke="#86cce2"/>
<circle cx="347.06" cy="97.84" r="1.1" stroke="#85cce2"/>
<circle cx="349.54" cy="97.47" r="1.1" stroke="#85cce1"/>
<circle cx="351.99" cy="97.1" r="1.1" stroke="#85cce1"/>
<circle cx="354.4" cy="96.73" r="1.1" stroke="#84cce1"/>
<circle cx="356.79" cy="96.37" r="1.1" stroke="#84cce1"/>
<circle cx="359.14" cy="96.02" r="1.1" stroke="#84cce0"/>
<circle cx="361.47" cy="95.67" r="1.1" stroke="#83cce0"/>
<circle cx="363.77" cy="95.33" r="1.1" stroke="#83cce0"/>
<circle cx="366.03" cy="94.99" r="1.1" stroke="#82ccdf"/>
<circle cx="368.27" cy="94.66" r="1.1" stroke="#82ccdf"/>
<circle cx="370.48" cy="94.33" r="1.1" stroke="#81ccdf"/>
<circle cx="372.66" cy="94" r="1.1" stroke="#81ccde"/>
<circle cx="374.81" cy="93.68" r="1.1" stroke="#80ccde"/>
<circle cx="376.93" cy="93.36" r="1.1" stroke="#80ccde"/>
<circle cx="379.03" cy="93.05" r="1.1" stroke="#7fccdd"/>
<circle cx="381.1" cy="92.74" r="1.1" stroke="#7fcbdd"/>
<circle cx="383.14" cy="92.43" r="1.1" stroke="#7fcbdd"/>
<circle cx="385.16" cy="92.13" r="1.1" stroke="#7ecbdc"/>
<circle cx="387.15" cy="91.84" r="1.1" stroke="#7ecbdc"/>
<circle cx="389.11" cy="91.55" r="1.1" stroke="#7dcbdc"/>
<circle cx="391.06" cy="91.27" r="1.1" stroke="#7dcbdc"/>
<circle cx="392.97" cy="90.99" r="1.1" stroke="#7ccbdb"/>
<circle cx="394.86" cy="90.72" r="1.1" stroke="#7ccbdb"/>
<circle cx="396.73" cy="90.45" r="1.1" stroke="#7bcbdb"/>
<circle cx="398.58" cy="90.2" r="1.1" stroke="#7bcbda"/>
<circle cx="400.4" cy="89.95" r="1.1" stroke="#7acbda"/>
<circle cx="402.2" cy="89.7" r="1.1" stroke="#7acbda"/>
<circle cx="403.97" cy="89.46" r="1.1" stroke="#7acbd9"/>
<circle cx="405.72" cy="89.23" r="1.1" stroke="#79cbd9"/>
<circle cx="407.45" cy="89" r="1.1" stroke="#79cbd9"/>
<circle cx="409.16" cy="88.77" r="1.1" stroke="#78cbd8"/>
<circle cx="410.85" cy="88.55" r="1.1" stroke="#78cbd8"/>
<circle cx="412.51" cy="88.33" r="1.1" stroke="#77cbd8"/>
<circle cx="414.16" cy="88.12" r="1.1" stroke="#77cbd7"/>
<circle cx="415.78" cy="87.91" r="1.1" stroke="#77cbd7"/>
<circle cx="417.38" cy="87.71" r="1.1" stroke="#76cbd7"/>
<circle cx="418.96" cy="87.51" r="1.1" stroke="#76cbd7"/>
<circle cx="420.53" cy="87.32" r="1.1" stroke="#75cbd6"/>
<circle cx="422.07" cy="87.13" r="1.1" stroke="#75cbd6"/>
<circle cx="423.59" cy="86.95" r="1.1" stroke="#74cbd6"/>
<circle cx="425.09" cy="86.77" r="1.1" stroke="#74cbd5"/>
<circle cx="426.58" cy="86.6" r="1.1" stroke="#74cbd5"/>
<circle cx="428.04" cy="86.42" r="1.1" stroke="#73cbd5"/>
<circle cx="429.49" cy="86.26" r="1.1" stroke="#73cbd5"/>
<circle cx="430.91" cy="86.09" r="1.1" stroke="#73cbd4"/>
<circle cx="432.32" cy="85.93" r="1.1" stroke="#72cbd4"/>
<circle cx="433.71" cy="85.77" r="1.1" stroke="#72cad4"/>
<circle cx="435.09" cy="85.61" r="1.1" stroke="#71cad4"/>
<circle cx="436.44" cy="85.45" r="1.1" stroke="#71cad3"/>
<circle cx="437.78" cy="85.29" r="1.1" stroke="#71cad3"/>
<circle cx="439.1" cy="85.13" r="1.1" stroke="#70cad3"/>
<circle cx="440.4" cy="84.98" r="1.1" stroke="#70cad3"/>
<circle cx="441.69" cy="84.83" r="1.1" stroke="#70cad2"/>
<circle cx="442.96" cy="84.68" r="1.1" stroke="#6fcad2"/>
<circle cx="444.21" cy="84.54" r="1.1" stroke="#6fcad2"/>
<circle cx="445.45" cy="84.41" r="1.1" stroke="#6ecad2"/>
<circle cx="446.67" cy="84.28" r="1.1" stroke="#6ecad1"/>
<circle cx="447.88" cy="84.16" r="1.1" stroke="#6ecad1"/>
<circle cx="449.07" cy="84.04" r="1.1" stroke="#6dcad1"/>
<circle cx="450.25" cy="83.93" r="1.1" stroke="#6dcad1"/>
<circle cx="451.41" cy="83.83" r="1.1" stroke="#6dcad0"/>
<circle cx="452.55" cy="83.73" r="1.1" stroke="#6ccad0"/>
<circle cx="453.69" cy="83.64" r="1.1" stroke="#6ccad0"/>
<circle cx="454.81" cy="83.55" r="1.1" stroke="#6ccad0"/>
<circle cx="455.91" cy="83.47" r="1.1" stroke="#6bcacf"/>
<circle cx="457" cy="83.39" r="1.1" stroke="#6bcacf"/>
<circle cx="458.08" cy="83.32" r="1.1" stroke="#6bcacf"/>
<circle cx="459.14" cy="83.25" r="1.1" stroke="#6acacf"/>
<circle cx="460.19" cy="83.19" r="1.1" stroke="#6acacf"/>
<circle cx="461.23" cy="83.13" r="1.1" stroke="#6acace"/>
<circle cx="462.25" cy="83.08" r="1.1" stroke="#6acace"/>
<circle cx="463.26" cy="83.02" r="1.1" stroke="#69cace"/>
<circle cx="464.25" cy="82.97" r="1.1" stroke="#69cace"/>
<circle cx="465.24" cy="82.92" r="1.1" stroke="#69cacd"/>
<circle cx="466.21" cy="82.87" r="1.1" stroke="#68cacd"/>
<circle cx="467.17" cy="82.83" r="1.1" stroke="#68cacd"/>
<circle cx="468.12" cy="82.79" r="1.1" stroke="#68cacd"/>
<circle cx="469.06" cy="82.74" r="1.1" stroke="#68cacd"/>
<circle cx="470.01" cy="82.7" r="1.1" stroke="#67cacc"/>
<circle cx="470.96" cy="82.66" r="1.1" stroke="#67cacc"/>
<circle cx="471.91" cy="82.63" r="1.1" stroke="#67cacc"/>
<circle cx="472.86" cy="82.59" r="1.1" stroke="#66cacc"/>
<circle cx="473.81" cy="82.55" r="1.1" stroke="#66cacc"/>
<circle cx="474.76" cy="82.52" r="1.1" stroke="#66cacb"/>
<circle cx="475.71" cy="82.49" r="1.1" stroke="#66cacb"/>
<circle cx="476.66" cy="82.46" r="1.1" stroke="#65cacb"/>
<circle cx="477.61" cy="82.43" r="1.1" stroke="#65cacb"/>
<circle cx="478.56" cy="82.4" r="1.1" stroke="#65c9cb"/>
<circle cx="479.51" cy="82.37" r="1.1" stroke="#64c9ca"/>
<circle cx="480.46" cy="82.35" r="1.1" stroke="#64c9ca"/>
<circle cx="481.41" cy="82.32" r="1.1" stroke="#64c9ca"/>
<circle cx="482.36" cy="82.3" r="1.1" stroke="#64c9ca"/>
<circle cx="483.31" cy="82.28" r="1.1" stroke="#63c9ca"/>
<circle cx="484.26" cy="82.26" r="1.1" stroke="#63c9c9"/>
<circle cx="485.21" cy="82.24" r="1.1" stroke="#63c9c9"/>
<circle cx="486.16" cy="82.23" r="1.1" stroke="#62c9c9"/>
<circle cx="487.11" cy="82.22" r="1.1" stroke="#62c9c9"/>
<circle cx="488.06" cy="82.2" r="1.1" stroke="#62c9c9"/>
<circle cx="489.01" cy="82.19" r="1.1" stroke="#61c9c8"/>
<circle cx="489.96" cy="82.18" r="1.1" stroke="#61c9c8"/>
<circle cx="490.91" cy="82.18" r="1.1" stroke="#61c9c8"/>
<circle cx="491.86" cy="82.17" r="1.1" stroke="#61c9c8"/>
<circle cx="492.81" cy="82.17" r="1.1" stroke="#60c9c8"/>
<circle cx="493.76" cy="82.17" r="1.1" stroke="#60c9c7"/>
<circle cx="494.71" cy="82.17" r="1.1" stroke="#60c9c7"/>
<circle cx="495.66" cy="82.17" r="1.1" stroke="#5fc9c7"/>
<circle cx="496.61" cy="82.17" r="1.1" stroke="#5fc9c7"/>
<circle cx="497.56" cy="82.18" r="1.1" stroke="#5fc9c7"/>
<circle cx="498.51" cy="82.19" r="1.1" stroke="#5ec9c6"/>
<circle cx="499.46" cy="82.2" r="1.1" stroke="#5ec9c6"/>
<circle cx="500.41" cy="82.21" r="1.1" stroke="#5ec9c6"/>
<circle cx="501.36" cy="82.23" r="1.1" stroke="#5ec9c6"/>
<circle cx="502.31" cy="82.25" r="1.1" stroke="#5ec9c6"/>
<circle cx="503.26" cy="82.26" r="1.1" stroke="#5ec9c6"/>
<circle cx="504.21" cy="82.29" r="1.1" stroke="#5ec9c6"/>
<circle cx="505.15" cy="82.32" r="1.1" stroke="#5ec9c6"/>
<circle cx="506.1" cy="82.35" r="1.1" stroke="#5ec9c6"/>
<circle cx="507.05" cy="82.38" r="1.1" stroke="#5ec9c6"/>
<circle cx="508" cy="82.41" r="1.1" stroke="#5ec9c6"/>
<circle cx="508.95" cy="82.45" r="1.1" stroke="#5ec9c6"/>
<circle cx="509.9" cy="82.48" r="1.1" stroke="#5ec9c6"/>
<circle cx="510.85" cy="82.52" r="1.1" stroke="#5ec9c6"/>
<circle cx="511.8" cy="82.56" r="1.1" stroke="#5ec9c6"/>
<circle cx="512.75" cy="82.6" r="1.1" stroke="#5ec9c6"/>
<circle cx="513.7" cy="82.64" r="1.1" stroke="#5ec9c6"/>
<circle cx="514.65" cy="82.69" r="1.1" stroke="#5ec9c6"/>
<circle cx="515.6" cy="82.73" r="1.1" stroke="#5ec9c6"/>
<circle cx="516.55" cy="82.78" r="1.1" stroke="#5ec9c6"/>
<circle cx="517.49" cy="82.82" r="1.1" stroke="#5ec9c6"/>
<circle cx="518.44" cy="82.87" r="1.1" stroke="#5ec9c6"/>
<circle cx="519.39" cy="82.92" r="1.1" stroke="#5ec9c6"/>
<circle cx="520.34" cy="82.96" r="1.1" stroke="#5ec9c6"/>
<circle cx="521.29" cy="83.02" r="1.1" stroke="#5ec9c6"/>
<circle cx="522.24" cy="83.07" r="1.1" stroke="#5ec9c6"/>
<circle cx="523.19" cy="83.12" r="1.1" stroke="#5ec9c6"/>
<circle cx="524.14" cy="83.17" r="1.1" stroke="#5ec9c6"/>
<circle cx="525.08" cy="83.22" r="1.1" stroke="#5ec9c6"/>
<circle cx="526.03" cy="83.27" r="1.1" stroke="#5ec9c6"/>
<circle cx="526.98" cy="83.33" r="1.1" stroke="#5ec9c6"/>
<circle cx="527.93" cy="83.38" r="1.1" stroke="#5ec9c6"/>
<circle cx="528.88" cy="83.43" r="1.1" stroke="#5ec9c6"/>
<circle cx="529.83" cy="83.49" r="1.1" stroke="#5ec9c6"/>
<circle cx="530.77" cy="83.54" r="1.1" stroke="#5ec9c6"/>
<circle cx="531.72" cy="83.6" r="1.1" stroke="#5ec9c6"/>
<circle cx="532.67" cy="83.65" r="1.1" stroke="#5ec9c6"/>
<circle cx="533.62" cy="83.71" r="1.1" stroke="#5ec9c6"/>
<circle cx="534.57" cy="83.77" r="1.1" stroke="#5ec9c6"/>
<circle cx="535.52" cy="83.82" r="1.1" stroke="#5ec9c6"/>
<circle cx="536.46" cy="83.88" r="1.1" stroke="#5ec9c6"/>
<circle cx="537.41" cy="83.93" r="1.1" stroke="#5ec9c6"/>
<circle cx="538.36" cy="83.99" r="1.1" stroke="#5ec9c6"/>
<circle cx="539.31" cy="84.04" r="1.1" stroke="#5ec9c6"/>
<circle cx="540.26" cy="84.1" r="1.1" stroke="#5ec9c6"/>
<circle cx="541.21" cy="84.15" r="1.1" stroke="#5ec9c6"/>
<circle cx="542.16" cy="84.2" r="1.1" stroke="#5ec9c6"/>
<circle cx="543.1" cy="84.25" r="1.1" stroke="#5ec9c6"/>
</g>
<g fill="none" stroke-width="0.5">
<circle cx="338.4" cy="116" r="1.1" stroke="#98c2ee"/>
<circle cx="340.94" cy="115.35" r="1.1" stroke="#98c2ee"/>
<circle cx="343.45" cy="114.71" r="1.1" stroke="#97c2ee"/>
<circle cx="345.92" cy="114.08" r="1.1" stroke="#96c2ee"/>
<circle cx="348.37" cy="113.45" r="1.1" stroke="#96c2ed"/>
<circle cx="350.78" cy="112.83" r="1.1" stroke="#95c2ed"/>
<circle cx="353.16" cy="112.22" r="1.1" stroke="#94c2ed"/>
<circle cx="355.52" cy="111.62" r="1.1" stroke="#93c2ed"/>
<circle cx="357.84" cy="111.03" r="1.1" stroke="#93c2ec"/>
<circle cx="360.14" cy="110.45" r="1.1" stroke="#92c2ec"/>
<circle cx="362.4" cy="109.88" r="1.1" stroke="#91c2ec"/>
<circle cx="364.64" cy="109.32" r="1.1" stroke="#90c2ec"/>
<circle cx="366.86" cy="108.77" r="1.1" stroke="#8fc2eb"/>
<circle cx="369.04" cy="108.24" r="1.1" stroke="#8ec1eb"/>
<circle cx="371.2" cy="107.71" r="1.1" stroke="#8ec1eb"/>
<circle cx="373.33" cy="107.19" r="1.1" stroke="#8dc1eb"/>
<circle cx="375.44" cy="106.67" r="1.1" stroke="#8cc1eb"/>
<circle cx="377.52" cy="106.17" r="1.1" stroke="#8bc1ea"/>
<circle cx="379.57" cy="105.67" r="1.1" stroke="#8ac1ea"/>
<circle cx="381.6" cy="105.18" r="1.1" stroke="#89c1ea"/>
<circle cx="383.6" cy="104.7" r="1.1" stroke="#89c1ea"/>
<circle cx="385.58" cy="104.23" r="1.1" stroke="#88c1e9"/>
<circle cx="387.53" cy="103.77" r="1.1" stroke="#87c1e9"/>
<circle cx="389.46" cy="103.32" r="1.1" stroke="#86c1e9"/>
<circle cx="391.37" cy="102.89" r="1.1" stroke="#85c1e9"/>
<circle cx="393.25" cy="102.46" r="1.1" stroke="#84c1e8"/>
<circle cx="395.12" cy="102.05" r="1.1" stroke="#83c1e8"/>
<circle cx="396.96" cy="101.65" r="1.1" stroke="#83c1e8"/>
<circle cx="398.78" cy="101.26" r="1.1" stroke="#82c1e8"/>
<circle cx="400.57" cy="100.88" r="1.1" stroke="#81c1e7"/>
<circle cx="402.35" cy="100.52" r="1.1" stroke="#80c1e7"/>
<circle cx="404.1" cy="100.16" r="1.1" stroke="#7fc1e7"/>
<circle cx="405.83" cy="99.81" r="1.1" stroke="#7fc1e7"/>
<circle cx="407.55" cy="99.48" r="1.1" stroke="#7ec1e6"/>
<circle cx="409.24" cy="99.15" r="1.1" stroke="#7dc1e6"/>
<circle cx="410.91" cy="98.83" r="1.1" stroke="#7cc1e6"/>
<circle cx="412.55" cy="98.52" r="1.1" stroke="#7bc0e6"/>
<circle cx="414.18" cy="98.21" r="1.1" stroke="#7bc0e5"/>
<circle cx="415.79" cy="97.92" r="1.1" stroke="#7ac0e5"/>
<circle cx="417.38" cy="97.63" r="1.1" stroke="#79c0e5"/>
<circle cx="418.95" cy="97.35" r="1.1" stroke="#78c0e5"/>
<circle cx="420.5" cy="97.08" r="1.1" stroke="#77c0e5"/>
<circle cx="422.03" cy="96.82" r="1.1" stroke="#77c0e4"/>
<circle cx="423.54" cy="96.56" r="1.1" stroke="#76c0e4"/>
<circle cx="425.04" cy="96.31" r="1.1" stroke="#75c0e4"/>
<circle cx="426.51" cy="96.06" r="1.1" stroke="#74c0e4"/>
<circle cx="427.97" cy="95.83" r="1.1" stroke="#74c0e3"/>
<circle cx="429.4" cy="95.6" r="1.1" stroke="#73c0e3"/>
<circle cx="430.82" cy="95.37" r="1.1" stroke="#72c0e3"/>
<circle cx="432.23" cy="95.15" r="1.1" stroke="#71c0e3"/>
<circle cx="433.61" cy="94.93" r="1.1" stroke="#71c0e3"/>
<circle cx="434.98" cy="94.71" r="1.1" stroke="#70c0e2"/>
<circle cx="436.32" cy="94.49" r="1.1" stroke="#6fc0e2"/>
<circle cx="437.66" cy="94.28" r="1.1" stroke="#6fc0e2"/>
<circle cx="438.97" cy="94.08" r="1.1" stroke="#6ec0e2"/>
<circle cx="440.27" cy="93.88" r="1.1" stroke="#6dc0e2"/>
<circle cx="441.55" cy="93.69" r="1.1" stroke="#6dc0e1"/>
<circle cx="442.82" cy="93.5" r="1.1" stroke="#6cc0e1"/>
<circle cx="444.07" cy="93.32" r="1.1" stroke="#6bc0e1"/>
<circle cx="445.3" cy="93.15" r="1.1" stroke="#6bc0e1"/>
<circle cx="446.52" cy="92.98" r="1.1" stroke="#6ac0e1"/>
<circle cx="447.73" cy="92.82" r="1.1" stroke="#69c0e1"/>
<circle cx="448.92" cy="92.67" r="1.1" stroke="#69c0e0"/>
<circle cx="450.09" cy="92.52" r="1.1" stroke="#68bfe0"/>
<circle cx="451.25" cy="92.38" r="1.1" stroke="#67bfe0"/>
<circle cx="452.4" cy="92.25" r="1.1" stroke="#67bfe0"/>
<circle cx="453.53" cy="92.13" r="1.1" stroke="#66bfe0"/>
<circle cx="454.65" cy="92.01" r="1.1" stroke="#66bfdf"/>
<circle cx="455.75" cy="91.89" r="1.1" stroke="#65bfdf"/>
<circle cx="456.84" cy="91.79" r="1.1" stroke="#64bfdf"/>
<circle cx="457.92" cy="91.69" r="1.1" stroke="#64bfdf"/>
<circle cx="458.98" cy="91.59" r="1.1" stroke="#63bfdf"/>
<circle cx="460.03" cy="91.5" r="1.1" stroke="#63bfdf"/>
<circle cx="461.07" cy="91.41" r="1.1" stroke="#62bfde"/>
<circle cx="462.09" cy="91.33" r="1.1" stroke="#62bfde"/>
<circle cx="463.1" cy="91.24" r="1.1" stroke="#61bfde"/>
<circle cx="464.09" cy="91.16" r="1.1" stroke="#60bfde"/>
<circle cx="465.08" cy="91.08" r="1.1" stroke="#60bfde"/>
<circle cx="466.05" cy="91" r="1.1" stroke="#5fbfde"/>
<circle cx="467.01" cy="90.93" r="1.1" stroke="#5fbfdd"/>
<circle cx="467.95" cy="90.86" r="1.1" stroke="#5ebfdd"/>
<circle cx="468.9" cy="90.79" r="1.1" stroke="#5ebfdd"/>
<circle cx="469.85" cy="90.72" r="1.1" stroke="#5dbfdd"/>
<circle cx="470.8" cy="90.65" r="1.1" stroke="#5dbfdd"/>
<circle cx="471.74" cy="90.58" r="1.1" stroke="#5cbfdd"/>
<circle cx="472.69" cy="90.51" r="1.1" stroke="#5cbfdd"/>
<circle cx="473.64" cy="90.45" r="1.1" stroke="#5bbfdc"/>
<circle cx="474.59" cy="90.39" r="1.1" stroke="#5bbfdc"/>
<circle cx="475.54" cy="90.33" r="1.1" stroke="#5abfdc"/>
<circle cx="476.48" cy="90.27" r="1.1" stroke="#5abfdc"/>
<circle cx="477.43" cy="90.21" r="1.1" stroke="#59bfdc"/>
<circle cx="478.38" cy="90.16" r="1.1" stroke="#58bfdc"/>
<circle cx="479.33" cy="90.1" r="1.1" stroke="#58bfdb"/>
<circle cx="480.28" cy="90.05" r="1.1" stroke="#57bfdb"/>
<circle cx="481.23" cy="90.01" r="1.1" stroke="#57bfdb"/>
<circle cx="482.18" cy="89.96" r="1.1" stroke="#56bfdb"/>
<circle cx="483.12" cy="89.91" r="1.1" stroke="#56bfdb"/>
<circle cx="484.07" cy="89.87" r="1.1" stroke="#55bedb"/>
<circle cx="485.02" cy="89.83" r="1.1" stroke="#55bedb"/>
<circle cx="485.97" cy="89.79" r="1.1" stroke="#54beda"/>
<circle cx="486.92" cy="89.76" r="1.1" stroke="#54beda"/>
<circle cx="487.87" cy="89.73" r="1.1" stroke="#53beda"/>
<circle cx="488.82" cy="89.7" r="1.1" stroke="#53beda"/>
<circle cx="489.77" cy="89.68" r="1.1" stroke="#52beda"/>
<circle cx="490.72" cy="89.66" r="1.1" stroke="#51beda"/>
<circle cx="491.67" cy="89.64" r="1.1" stroke="#51bed9"/>
<circle cx="492.62" cy="89.62" r="1.1" stroke="#50bed9"/>
<circle cx="493.57" cy="89.6" r="1.1" stroke="#50bed9"/>
<circle cx="494.52" cy="89.6" r="1.1" stroke="#4fbed9"/>
<circle cx="495.47" cy="89.59" r="1.1" stroke="#4fbed9"/>
<circle cx="496.42" cy="89.58" r="1.1" stroke="#4ebed9"/>
<circle cx="497.37" cy="89.59" r="1.1" stroke="#4ebed8"/>
<circle cx="498.32" cy="89.59" r="1.1" stroke="#4dbed8"/>
<circle cx="499.27" cy="89.6" r="1.1" stroke="#4cbed8"/>
<circle cx="500.22" cy="89.61" r="1.1" stroke="#4cbed8"/>
<circle cx="501.17" cy="89.63" r="1.1" stroke="#4cbed8"/>
<circle cx="502.12" cy="89.65" r="1.1" stroke="#4cbed8"/>
<circle cx="503.07" cy="89.67" r="1.1" stroke="#4cbed8"/>
<circle cx="504.02" cy="89.7" r="1.1" stroke="#4cbed8"/>
<circle cx="504.97" cy="89.74" r="1.1" stroke="#4cbed8"/>
<circle cx="505.92" cy="89.78" r="1.1" stroke="#4cbed8"/>
<circle cx="506.87" cy="89.82" r="1.1" stroke="#4cbed8"/>
<circle cx="507.81" cy="89.86" r="1.1" stroke="#4cbed8"/>
<circle cx="508.76" cy="89.91" r="1.1" stroke="#4cbed8"/>
<circle cx="509.71" cy="89.97" r="1.1" stroke="#4cbed8"/>
<circle cx="510.66" cy="90.02" r="1.1" stroke="#4cbed8"/>
<circle cx="511.61" cy="90.07" r="1.1" stroke="#4cbed8"/>
<circle cx="512.56" cy="90.13" r="1.1" stroke="#4cbed8"/>
<circle cx="513.5" cy="90.19" r="1.1" stroke="#4cbed8"/>
<circle cx="514.45" cy="90.25" r="1.1" stroke="#4cbed8"/>
<circle cx="515.4" cy="90.31" r="1.1" stroke="#4cbed8"/>
<circle cx="516.35" cy="90.37" r="1.1" stroke="#4cbed8"/>
<circle cx="517.3" cy="90.44" r="1.1" stroke="#4cbed8"/>
<circle cx="518.24" cy="90.51" r="1.1" stroke="#4cbed8"/>
<circle cx="519.19" cy="90.58" r="1.1" stroke="#4cbed8"/>
<circle cx="520.14" cy="90.64" r="1.1" stroke="#4cbed8"/>
<circle cx="521.09" cy="90.72" r="1.1" stroke="#4cbed8"/>
<circle cx="522.03" cy="90.79" r="1.1" stroke="#4cbed8"/>
<circle cx="522.98" cy="90.86" r="1.1" stroke="#4cbed8"/>
<circle cx="523.93" cy="90.94" r="1.1" stroke="#4cbed8"/>
<circle cx="524.87" cy="91.01" r="1.1" stroke="#4cbed8"/>
<circle cx="525.82" cy="91.09" r="1.1" stroke="#4cbed8"/>
<circle cx="526.77" cy="91.17" r="1.1" stroke="#4cbed8"/>
<circle cx="527.72" cy="91.24" r="1.1" stroke="#4cbed8"/>
<circle cx="528.66" cy="91.32" r="1.1" stroke="#4cbed8"/>
<circle cx="529.61" cy="91.4" r="1.1" stroke="#4cbed8"/>
<circle cx="530.56" cy="91.48" r="1.1" stroke="#4cbed8"/>
<circle cx="531.5" cy="91.56" r="1.1" stroke="#4cbed8"/>
<circle cx="532.45" cy="91.64" r="1.1" stroke="#4cbed8"/>
<circle cx="533.4" cy="91.72" r="1.1" stroke="#4cbed8"/>
<circle cx="534.34" cy="91.8" r="1.1" stroke="#4cbed8"/>
<circle cx="535.29" cy="91.88" r="1.1" stroke="#4cbed8"/>
<circle cx="536.23" cy="91.97" r="1.1" stroke="#4cbed8"/>
<circle cx="537.18" cy="92.05" r="1.1" stroke="#4cbed8"/>
<circle cx="538.13" cy="92.13" r="1.1" stroke="#4cbed8"/>
<circle cx="539.07" cy="92.21" r="1.1" stroke="#4cbed8"/>
<circle cx="540.02" cy="92.29" r="1.1" stroke="#4cbed8"/>
<circle cx="540.97" cy="92.37" r="1.1" stroke="#4cbed8"/>
<circle cx="541.91" cy="92.44" r="1.1" stroke="#4cbed8"/>
<circle cx="542.86" cy="92.51" r="1.1" stroke="#4cbed8"/>
<circle cx="543.81" cy="92.59" r="1.1" stroke="#4cbed8"/>
</g>
<g fill="none" stroke-width="0.5">
<circle cx="337" cy="133.2" r="1.1" stroke="#9eaaf2"/>
<circle cx="339.47" cy="132.28" r="1.1" stroke="#9eaaf2"/>
<circle cx="341.91" cy="131.36" r="1.1" stroke="#9daaf2"/>
<circle cx="344.32" cy="130.45" r="1.1" stroke="#9caaf1"/>
<circle cx="346.7" cy="129.55" r="1.1" stroke="#9baaf1"/>
<circle cx="349.05" cy="128.66" r="1.1" stroke="#9aabf1"/>
<circle cx="351.37" cy="127.79" r="1.1" stroke="#9aabf1"/>
<circle cx="353.67" cy="126.93" r="1.1" stroke="#99abf0"/>
<circle cx="355.94" cy="126.09" r="1.1" stroke="#98abf0"/>
<circle cx="358.19" cy="125.26" r="1.1" stroke="#97abf0"/>
<circle cx="360.41" cy="124.45" r="1.1" stroke="#96abf0"/>
<circle cx="362.61" cy="123.66" r="1.1" stroke="#95abef"/>
<circle cx="364.78" cy="122.89" r="1.1" stroke="#94acef"/>
<circle cx="366.93" cy="122.14" r="1.1" stroke="#93acef"/>
<circle cx="369.06" cy="121.42" r="1.1" stroke="#92acef"/>
<circle cx="371.17" cy="120.72" r="1.1" stroke="#91acee"/>
<circle cx="373.26" cy="120.05" r="1.1" stroke="#90acee"/>
<circle cx="375.33" cy="119.4" r="1.1" stroke="#8facee"/>
<circle cx="377.37" cy="118.77" r="1.1" stroke="#8eaced"/>
<circle cx="379.4" cy="118.16" r="1.1" stroke="#8daded"/>
<circle cx="381.4" cy="117.57" r="1.1" stroke="#8caded"/>
<circle cx="383.38" cy="117" r="1.1" stroke="#8baded"/>
<circle cx="385.34" cy="116.44" r="1.1" stroke="#8aadec"/>
<circle cx="387.28" cy="115.89" r="1.1" stroke="#89adec"/>
<circle cx="389.19" cy="115.36" r="1.1" stroke="#88adec"/>
<circle cx="391.08" cy="114.84" r="1.1" stroke="#87aeeb"/>
<circle cx="392.94" cy="114.33" r="1.1" stroke="#86aeeb"/>
<circle cx="394.79" cy="113.82" r="1.1" stroke="#85aeeb"/>
<circle cx="396.61" cy="113.33" r="1.1" stroke="#84aeeb"/>
<circle cx="398.41" cy="112.84" r="1.1" stroke="#83aeea"/>
<circle cx="400.18" cy="112.35" r="1.1" stroke="#82aeea"/>
<circle cx="401.94" cy="111.87" r="1.1" stroke="#81aeea"/>
<circle cx="403.67" cy="111.39" r="1.1" stroke="#80afe9"/>
<circle cx="405.38" cy="110.92" r="1.1" stroke="#7fafe9"/>
<circle cx="407.06" cy="110.46" r="1.1" stroke="#7eafe9"/>
<circle cx="408.73" cy="110.01" r="1.1" stroke="#7dafe9"/>
<circle cx="410.38" cy="109.57" r="1.1" stroke="#7cafe8"/>
<circle cx="412.01" cy="109.14" r="1.1" stroke="#7bafe8"/>
<circle cx="413.62" cy="108.72" r="1.1" stroke="#7aafe8"/>
<circle cx="415.21" cy="108.32" r="1.1" stroke="#79b0e8"/>
<circle cx="416.79" cy="107.93" r="1.1" stroke="#78b0e7"/>
<circle cx="418.34" cy="107.55" r="1.1" stroke="#77b0e7"/>
<circle cx="419.88" cy="107.18" r="1.1" stroke="#76b0e7"/>
<circle cx="421.4" cy="106.82" r="1.1" stroke="#76b0e7"/>
<circle cx="422.9" cy="106.47" r="1.1" stroke="#75b0e6"/>
<circle cx="424.39" cy="106.14" r="1.1" stroke="#74b0e6"/>
<circle cx="425.85" cy="105.81" r="1.1" stroke="#73b1e6"/>
<circle cx="427.3" cy="105.48" r="1.1" stroke="#72b1e6"/>
<circle cx="428.73" cy="105.15" r="1.1" stroke="#71b1e5"/>
<circle cx="430.14" cy="104.83" r="1.1" stroke="#70b1e5"/>
<circle cx="431.53" cy="104.51" r="1.1" stroke="#6fb1e5"/>
<circle cx="432.91" cy="104.2" r="1.1" stroke="#6fb1e5"/>
<circle cx="434.27" cy="103.89" r="1.1" stroke="#6eb1e4"/>
<circle cx="435.61" cy="103.59" r="1.1" stroke="#6db1e4"/>
<circle cx="436.93" cy="103.29" r="1.1" stroke="#6cb2e4"/>
<circle cx="438.24" cy="103" r="1.1" stroke="#6bb2e4"/>
<circle cx="439.53" cy="102.72" r="1.1" stroke="#6ab2e3"/>
<circle cx="440.81" cy="102.44" r="1.1" stroke="#6ab2e3"/>
<circle cx="442.07" cy="102.17" r="1.1" stroke="#69b2e3"/>
<circle cx="443.31" cy="101.91" r="1.1" stroke="#68b2e3"/>
<circle cx="444.54" cy="101.65" r="1.1" stroke="#67b2e3"/>
<circle cx="445.76" cy="101.41" r="1.1" stroke="#67b2e2"/>
<circle cx="446.96" cy="101.17" r="1.1" stroke="#66b3e2"/>
<circle cx="448.15" cy="100.94" r="1.1" stroke="#65b3e2"/>
<circle cx="449.32" cy="100.72" r="1.1" stroke="#64b3e2"/>
<circle cx="450.48" cy="100.5" r="1.1" stroke="#63b3e1"/>
<circle cx="451.63" cy="100.3" r="1.1" stroke="#63b3e1"/>
<circle cx="452.76" cy="100.1" r="1.1" stroke="#62b3e1"/>
<circle cx="453.88" cy="99.91" r="1.1" stroke="#61b3e1"/>
<circle cx="454.98" cy="99.74" r="1.1" stroke="#61b3e1"/>
<circle cx="456.08" cy="99.56" r="1.1" stroke="#60b3e0"/>
<circle cx="457.15" cy="99.4" r="1.1" stroke="#5fb4e0"/>
<circle cx="458.22" cy="99.25" r="1.1" stroke="#5eb4e0"/>
<circle cx="459.27" cy="99.1" r="1.1" stroke="#5eb4e0"/>
<circle cx="460.31" cy="98.96" r="1.1" stroke="#5db4e0"/>
<circle cx="461.34" cy="98.83" r="1.1" stroke="#5cb4df"/>
<circle cx="462.36" cy="98.7" r="1.1" stroke="#5cb4df"/>
<circle cx="463.36" cy="98.58" r="1.1" stroke="#5bb4df"/>
<circle cx="464.35" cy="98.46" r="1.1" stroke="#5ab4df"/>
<circle cx="465.32" cy="98.34" r="1.1" stroke="#5ab4df"/>
<circle cx="466.29" cy="98.23" r="1.1" stroke="#59b4df"/>
<circle cx="467.24" cy="98.13" r="1.1" stroke="#59b5de"/>
<circle cx="468.18" cy="98.02" r="1.1" stroke="#58b5de"/>
<circle cx="469.13" cy="97.92" r="1.1" stroke="#57b5de"/>
<circle cx="470.07" cy="97.82" r="1.1" stroke="#57b5de"/>
<circle cx="471.02" cy="97.73" r="1.1" stroke="#56b5de"/>
<circle cx="471.96" cy="97.63" r="1.1" stroke="#55b5dd"/>
<circle cx="472.91" cy="97.54" r="1.1" stroke="#55b5dd"/>
<circle cx="473.86" cy="97.45" r="1.1" stroke="#54b5dd"/>
<circle cx="474.8" cy="97.37" r="1.1" stroke="#53b5dd"/>
<circle cx="475.75" cy="97.28" r="1.1" stroke="#53b5dd"/>
<circle cx="476.69" cy="97.21" r="1.1" stroke="#52b6dd"/>
<circle cx="477.64" cy="97.13" r="1.1" stroke="#51b6dc"/>
<circle cx="478.59" cy="97.05" r="1.1" stroke="#51b6dc"/>
<circle cx="479.54" cy="96.98" r="1.1" stroke="#50b6dc"/>
<circle cx="480.48" cy="96.92" r="1.1" stroke="#50b6dc"/>
<circle cx="481.43" cy="96.85" r="1.1" stroke="#4fb6dc"/>
<circle cx="482.38" cy="96.79" r="1.1" stroke="#4eb6db"/>
<circle cx="483.33" cy="96.73" r="1.1" stroke="#4eb6db"/>
<circle cx="484.28" cy="96.67" r="1.1" stroke="#4db6db"/>
<circle cx="485.22" cy="96.62" r="1.1" stroke="#4cb6db"/>
<circle cx="486.17" cy="96.56" r="1.1" stroke="#4cb7db"/>
<circle cx="487.12" cy="96.52" r="1.1" stroke="#4bb7db"/>
<circle cx="488.07" cy="96.48" r="1.1" stroke="#4ab7da"/>
<circle cx="489.02" cy="96.43" r="1.1" stroke="#4ab7da"/>
<circle cx="489.97" cy="96.4" r="1.1" stroke="#49b7da"/>
<circle cx="490.92" cy="96.36" r="1.1" stroke="#48b7da"/>
<circle cx="491.87" cy="96.33" r="1.1" stroke="#48b7da"/>
<circle cx="492.82" cy="96.3" r="1.1" stroke="#47b7d9"/>
<circle cx="493.77" cy="96.28" r="1.1" stroke="#46b7d9"/>
<circle cx="494.72" cy="96.26" r="1.1" stroke="#46b7d9"/>
<circle cx="495.67" cy="96.24" r="1.1" stroke="#45b8d9"/>
<circle cx="496.62" cy="96.22" r="1.1" stroke="#44b8d9"/>
<circle cx="497.57" cy="96.22" r="1.1" stroke="#44b8d8"/>
<circle cx="498.52" cy="96.21" r="1.1" stroke="#43b8d8"/>
<circle cx="499.47" cy="96.2" r="1.1" stroke="#42b8d8"/>
<circle cx="500.42" cy="96.21" r="1.1" stroke="#42b8d8"/>
<circle cx="501.37" cy="96.22" r="1.1" stroke="#42b8d8"/>
<circle cx="502.32" cy="96.23" r="1.1" stroke="#42b8d8"/>
<circle cx="503.27" cy="96.24" r="1.1" stroke="#42b8d8"/>
<circle cx="504.22" cy="96.26" r="1.1" stroke="#42b8d8"/>
<circle cx="505.17" cy="96.3" r="1.1" stroke="#42b8d8"/>
<circle cx="506.11" cy="96.33" r="1.1" stroke="#42b8d8"/>
<circle cx="507.06" cy="96.36" r="1.1" stroke="#42b8d8"/>
<circle cx="508.01" cy="96.39" r="1.1" stroke="#42b8d8"/>
<circle cx="508.96" cy="96.44" r="1.1" stroke="#42b8d8"/>
<circle cx="509.91" cy="96.48" r="1.1" stroke="#42b8d8"/>
<circle cx="510.86" cy="96.53" r="1.1" stroke="#42b8d8"/>
<circle cx="511.81" cy="96.58" r="1.1" stroke="#42b8d8"/>
<circle cx="512.76" cy="96.63" r="1.1" stroke="#42b8d8"/>
<circle cx="513.71" cy="96.69" r="1.1" stroke="#42b8d8"/>
<circle cx="514.65" cy="96.74" r="1.1" stroke="#42b8d8"/>
<circle cx="515.6" cy="96.8" r="1.1" stroke="#42b8d8"/>
<circle cx="516.55" cy="96.86" r="1.1" stroke="#42b8d8"/>
<circle cx="517.5" cy="96.92" r="1.1" stroke="#42b8d8"/>
<circle cx="518.45" cy="96.99" r="1.1" stroke="#42b8d8"/>
<circle cx="519.39" cy="97.05" r="1.1" stroke="#42b8d8"/>
<circle cx="520.34" cy="97.12" r="1.1" stroke="#42b8d8"/>
<circle cx="521.29" cy="97.19" r="1.1" stroke="#42b8d8"/>
<circle cx="522.24" cy="97.26" r="1.1" stroke="#42b8d8"/>
<circle cx="523.18" cy="97.33" r="1.1" stroke="#42b8d8"/>
<circle cx="524.13" cy="97.4" r="1.1" stroke="#42b8d8"/>
<circle cx="525.08" cy="97.47" r="1.1" stroke="#42b8d8"/>
<circle cx="526.03" cy="97.55" r="1.1" stroke="#42b8d8"/>
<circle cx="526.97" cy="97.62" r="1.1" stroke="#42b8d8"/>
<circle cx="527.92" cy="97.7" r="1.1" stroke="#42b8d8"/>
<circle cx="528.87" cy="97.77" r="1.1" stroke="#42b8d8"/>
<circle cx="529.81" cy="97.85" r="1.1" stroke="#42b8d8"/>
<circle cx="530.76" cy="97.93" r="1.1" stroke="#42b8d8"/>
<circle cx="531.71" cy="98.01" r="1.1" stroke="#42b8d8"/>
<circle cx="532.65" cy="98.08" r="1.1" stroke="#42b8d8"/>
<circle cx="533.6" cy="98.16" r="1.1" stroke="#42b8d8"/>
<circle cx="534.55" cy="98.24" r="1.1" stroke="#42b8d8"/>
<circle cx="535.49" cy="98.32" r="1.1" stroke="#42b8d8"/>
<circle cx="536.44" cy="98.4" r="1.1" stroke="#42b8d8"/>
<circle cx="537.39" cy="98.48" r="1.1" stroke="#42b8d8"/>
<circle cx="538.33" cy="98.56" r="1.1" stroke="#42b8d8"/>
<circle cx="539.28" cy="98.64" r="1.1" stroke="#42b8d8"/>
<circle cx="540.23" cy="98.72" r="1.1" stroke="#42b8d8"/>
<circle cx="541.17" cy="98.79" r="1.1" stroke="#42b8d8"/>
<circle cx="542.12" cy="98.87" r="1.1" stroke="#42b8d8"/>
<circle cx="543.07" cy="98.93" r="1.1" stroke="#42b8d8"/>
</g>
<g fill="none" stroke-width="0.5">
<circle cx="335" cy="150.4" r="1.1" stroke="#a0a0f2"/>
<circle cx="337.44" cy="149.33" r="1.1" stroke="#a0a0f2"/>
<circle cx="339.85" cy="148.28" r="1.1" stroke="#9fa0f2"/>
<circle cx="342.24" cy="147.23" r="1.1" stroke="#9ea0f2"/>
<circle cx="344.59" cy="146.19" r="1.1" stroke="#9da0f1"/>
<circle cx="346.91" cy="145.17" r="1.1" stroke="#9ca1f1"/>
<circle cx="349.21" cy="144.16" r="1.1" stroke="#9ca1f1"/>
<circle cx="351.49" cy="143.17" r="1.1" stroke="#9ba1f1"/>
<circle cx="353.73" cy="142.19" r="1.1" stroke="#9aa1f1"/>
<circle cx="355.95" cy="141.23" r="1.1" stroke="#99a1f0"/>
<circle cx="358.15" cy="140.28" r="1.1" stroke="#98a1f0"/>
<circle cx="360.32" cy="139.34" r="1.1" stroke="#97a2f0"/>
<circle cx="362.47" cy="138.43" r="1.1" stroke="#96a2f0"/>
<circle cx="364.6" cy="137.53" r="1.1" stroke="#95a2ef"/>
<circle cx="366.7" cy="136.65" r="1.1" stroke="#94a2ef"/>
<circle cx="368.79" cy="135.8" r="1.1" stroke="#93a2ef"/>
<circle cx="370.85" cy="134.96" r="1.1" stroke="#92a2ef"/>
<circle cx="372.89" cy="134.15" r="1.1" stroke="#91a3ef"/>
<circle cx="374.91" cy="133.35" r="1.1" stroke="#90a3ee"/>
<circle cx="376.92" cy="132.58" r="1.1" stroke="#8fa3ee"/>
<circle cx="378.9" cy="131.82" r="1.1" stroke="#8ea3ee"/>
<circle cx="380.86" cy="131.08" r="1.1" stroke="#8da3ee"/>
<circle cx="382.79" cy="130.36" r="1.1" stroke="#8ca3ed"/>
<circle cx="384.71" cy="129.65" r="1.1" stroke="#8ba4ed"/>
<circle cx="386.61" cy="128.96" r="1.1" stroke="#8aa4ed"/>
<circle cx="388.48" cy="128.28" r="1.1" stroke="#89a4ed"/>
<circle cx="390.34" cy="127.62" r="1.1" stroke="#87a4ec"/>
<circle cx="392.17" cy="126.96" r="1.1" stroke="#86a4ec"/>
<circle cx="393.98" cy="126.32" r="1.1" stroke="#85a4ec"/>
<circle cx="395.77" cy="125.69" r="1.1" stroke="#84a5ec"/>
<circle cx="397.54" cy="125.06" r="1.1" stroke="#83a5eb"/>
<circle cx="399.29" cy="124.45" r="1.1" stroke="#82a5eb"/>
<circle cx="401.01" cy="123.84" r="1.1" stroke="#81a5eb"/>
<circle cx="402.72" cy="123.24" r="1.1" stroke="#80a5eb"/>
<circle cx="404.4" cy="122.65" r="1.1" stroke="#7fa5eb"/>
<circle cx="406.06" cy="122.07" r="1.1" stroke="#7fa6ea"/>
<circle cx="407.71" cy="121.49" r="1.1" stroke="#7ea6ea"/>
<circle cx="409.33" cy="120.93" r="1.1" stroke="#7da6ea"/>
<circle cx="410.94" cy="120.38" r="1.1" stroke="#7ca6ea"/>
<circle cx="412.53" cy="119.84" r="1.1" stroke="#7ba6e9"/>
<circle cx="414.1" cy="119.32" r="1.1" stroke="#7aa6e9"/>
<circle cx="415.66" cy="118.82" r="1.1" stroke="#79a7e9"/>
<circle cx="417.2" cy="118.33" r="1.1" stroke="#78a7e9"/>
<circle cx="418.72" cy="117.85" r="1.1" stroke="#77a7e9"/>
<circle cx="420.23" cy="117.39" r="1.1" stroke="#76a7e8"/>
<circle cx="421.72" cy="116.95" r="1.1" stroke="#75a7e8"/>
<circle cx="423.2" cy="116.52" r="1.1" stroke="#74a7e8"/>
<circle cx="424.66" cy="116.1" r="1.1" stroke="#73a7e8"/>
<circle cx="426.1" cy="115.69" r="1.1" stroke="#72a8e8"/>
<circle cx="427.52" cy="115.28" r="1.1" stroke="#71a8e7"/>
<circle cx="428.93" cy="114.88" r="1.1" stroke="#71a8e7"/>
<circle cx="430.32" cy="114.48" r="1.1" stroke="#70a8e7"/>
<circle cx="431.69" cy="114.09" r="1.1" stroke="#6fa8e7"/>
<circle cx="433.04" cy="113.7" r="1.1" stroke="#6ea8e7"/>
<circle cx="434.38" cy="113.32" r="1.1" stroke="#6da8e6"/>
<circle cx="435.7" cy="112.95" r="1.1" stroke="#6ca9e6"/>
<circle cx="437.01" cy="112.59" r="1.1" stroke="#6ba9e6"/>
<circle cx="438.3" cy="112.23" r="1.1" stroke="#6ba9e6"/>
<circle cx="439.57" cy="111.89" r="1.1" stroke="#6aa9e6"/>
<circle cx="440.84" cy="111.55" r="1.1" stroke="#69a9e5"/>
<circle cx="442.08" cy="111.21" r="1.1" stroke="#68a9e5"/>
<circle cx="443.31" cy="110.89" r="1.1" stroke="#67a9e5"/>
<circle cx="444.53" cy="110.58" r="1.1" stroke="#66aae5"/>
<circle cx="445.73" cy="110.28" r="1.1" stroke="#66aae5"/>
<circle cx="446.92" cy="109.98" r="1.1" stroke="#65aae4"/>
<circle cx="448.1" cy="109.7" r="1.1" stroke="#64aae4"/>
<circle cx="449.26" cy="109.42" r="1.1" stroke="#63aae4"/>
<circle cx="450.41" cy="109.15" r="1.1" stroke="#63aae4"/>
<circle cx="451.55" cy="108.9" r="1.1" stroke="#62aae4"/>
<circle cx="452.67" cy="108.65" r="1.1" stroke="#61aae4"/>
<circle cx="453.78" cy="108.4" r="1.1" stroke="#60abe3"/>
<circle cx="454.88" cy="108.18" r="1.1" stroke="#60abe3"/>
<circle cx="455.96" cy="107.96" r="1.1" stroke="#5fabe3"/>
<circle cx="457.03" cy="107.75" r="1.1" stroke="#5eabe3"/>
<circle cx="458.09" cy="107.55" r="1.1" stroke="#5dabe3"/>
<circle cx="459.14" cy="107.36" r="1.1" stroke="#5dabe3"/>
<circle cx="460.17" cy="107.17" r="1.1" stroke="#5cabe2"/>
<circle cx="461.2" cy="107" r="1.1" stroke="#5babe2"/>
<circle cx="462.21" cy="106.83" r="1.1" stroke="#5bace2"/>
<circle cx="463.2" cy="106.66" r="1.1" stroke="#5aace2"/>
<circle cx="464.19" cy="106.5" r="1.1" stroke="#59ace2"/>
<circle cx="465.16" cy="106.35" r="1.1" stroke="#59ace2"/>
<circle cx="466.12" cy="106.19" r="1.1" stroke="#58ace1"/>
<circle cx="467.07" cy="106.05" r="1.1" stroke="#57ace1"/>
<circle cx="468.01" cy="105.91" r="1.1" stroke="#57ace1"/>
<circle cx="468.95" cy="105.77" r="1.1" stroke="#56ace1"/>
<circle cx="469.89" cy="105.63" r="1.1" stroke="#55ace1"/>
<circle cx="470.83" cy="105.5" r="1.1" stroke="#55ade1"/>
<circle cx="471.78" cy="105.37" r="1.1" stroke="#54ade1"/>
<circle cx="472.72" cy="105.24" r="1.1" stroke="#53ade0"/>
<circle cx="473.66" cy="105.12" r="1.1" stroke="#53ade0"/>
<circle cx="474.6" cy="105" r="1.1" stroke="#52ade0"/>
<circle cx="475.54" cy="104.88" r="1.1" stroke="#51ade0"/>
<circle cx="476.49" cy="104.77" r="1.1" stroke="#51ade0"/>
<circle cx="477.43" cy="104.66" r="1.1" stroke="#50ade0"/>
<circle cx="478.37" cy="104.55" r="1.1" stroke="#4fade0"/>
<circle cx="479.32" cy="104.44" r="1.1" stroke="#4faedf"/>
<circle cx="480.26" cy="104.34" r="1.1" stroke="#4eaedf"/>
<circle cx="481.21" cy="104.24" r="1.1" stroke="#4daedf"/>
<circle cx="482.15" cy="104.14" r="1.1" stroke="#4daedf"/>
<circle cx="483.1" cy="104.05" r="1.1" stroke="#4caedf"/>
<circle cx="484.04" cy="103.96" r="1.1" stroke="#4baedf"/>
<circle cx="484.99" cy="103.88" r="1.1" stroke="#4baede"/>
<circle cx="485.94" cy="103.79" r="1.1" stroke="#4aaede"/>
<circle cx="486.88" cy="103.72" r="1.1" stroke="#49aede"/>
<circle cx="487.83" cy="103.64" r="1.1" stroke="#49afde"/>
<circle cx="488.78" cy="103.57" r="1.1" stroke="#48afde"/>
<circle cx="489.72" cy="103.5" r="1.1" stroke="#47afde"/>
<circle cx="490.67" cy="103.44" r="1.1" stroke="#47afde"/>
<circle cx="491.62" cy="103.38" r="1.1" stroke="#46afdd"/>
<circle cx="492.57" cy="103.32" r="1.1" stroke="#45afdd"/>
<circle cx="493.52" cy="103.26" r="1.1" stroke="#45afdd"/>
<circle cx="494.47" cy="103.22" r="1.1" stroke="#44afdd"/>
<circle cx="495.42" cy="103.17" r="1.1" stroke="#43afdd"/>
<circle cx="496.36" cy="103.13" r="1.1" stroke="#43b0dd"/>
<circle cx="497.31" cy="103.09" r="1.1" stroke="#42b0dc"/>
<circle cx="498.26" cy="103.06" r="1.1" stroke="#41b0dc"/>
<circle cx="499.21" cy="103.03" r="1.1" stroke="#41b0dc"/>
<circle cx="500.16" cy="103" r="1.1" stroke="#40b0dc"/>
<circle cx="501.11" cy="102.99" r="1.1" stroke="#40b0dc"/>
<circle cx="502.06" cy="102.98" r="1.1" stroke="#40b0dc"/>
<circle cx="503.01" cy="102.96" r="1.1" stroke="#40b0dc"/>
<circle cx="503.96" cy="102.96" r="1.1" stroke="#40b0dc"/>
<circle cx="504.91" cy="102.97" r="1.1" stroke="#40b0dc"/>
<circle cx="505.86" cy="102.98" r="1.1" stroke="#40b0dc"/>
<circle cx="506.81" cy="102.99" r="1.1" stroke="#40b0dc"/>
<circle cx="507.76" cy="103" r="1.1" stroke="#40b0dc"/>
<circle cx="508.71" cy="103.03" r="1.1" stroke="#40b0dc"/>
<circle cx="509.66" cy="103.05" r="1.1" stroke="#40b0dc"/>
<circle cx="510.61" cy="103.08" r="1.1" stroke="#40b0dc"/>
<circle cx="511.56" cy="103.11" r="1.1" stroke="#40b0dc"/>
<circle cx="512.51" cy="103.14" r="1.1" stroke="#40b0dc"/>
<circle cx="513.46" cy="103.18" r="1.1" stroke="#40b0dc"/>
<circle cx="514.41" cy="103.22" r="1.1" stroke="#40b0dc"/>
<circle cx="515.36" cy="103.26" r="1.1" stroke="#40b0dc"/>
<circle cx="516.31" cy="103.3" r="1.1" stroke="#40b0dc"/>
<circle cx="517.26" cy="103.34" r="1.1" stroke="#40b0dc"/>
<circle cx="518.2" cy="103.39" r="1.1" stroke="#40b0dc"/>
<circle cx="519.15" cy="103.44" r="1.1" stroke="#40b0dc"/>
<circle cx="520.1" cy="103.49" r="1.1" stroke="#40b0dc"/>
<circle cx="521.05" cy="103.54" r="1.1" stroke="#40b0dc"/>
<circle cx="522" cy="103.59" r="1.1" stroke="#40b0dc"/>
<circle cx="522.95" cy="103.65" r="1.1" stroke="#40b0dc"/>
<circle cx="523.9" cy="103.7" r="1.1" stroke="#40b0dc"/>
<circle cx="524.84" cy="103.76" r="1.1" stroke="#40b0dc"/>
<circle cx="525.79" cy="103.82" r="1.1" stroke="#40b0dc"/>
<circle cx="526.74" cy="103.88" r="1.1" stroke="#40b0dc"/>
<circle cx="527.69" cy="103.94" r="1.1" stroke="#40b0dc"/>
<circle cx="528.64" cy="104" r="1.1" stroke="#40b0dc"/>
<circle cx="529.58" cy="104.06" r="1.1" stroke="#40b0dc"/>
<circle cx="530.53" cy="104.12" r="1.1" stroke="#40b0dc"/>
<circle cx="531.48" cy="104.19" r="1.1" stroke="#40b0dc"/>
<circle cx="532.43" cy="104.25" r="1.1" stroke="#40b0dc"/>
<circle cx="533.38" cy="104.32" r="1.1" stroke="#40b0dc"/>
<circle cx="534.32" cy="104.38" r="1.1" stroke="#40b0dc"/>
<circle cx="535.27" cy="104.45" r="1.1" stroke="#40b0dc"/>
<circle cx="536.22" cy="104.51" r="1.1" stroke="#40b0dc"/>
<circle cx="537.17" cy="104.57" r="1.1" stroke="#40b0dc"/>
<circle cx="538.11" cy="104.64" r="1.1" stroke="#40b0dc"/>
<circle cx="539.06" cy="104.7" r="1.1" stroke="#40b0dc"/>
<circle cx="540.01" cy="104.76" r="1.1" stroke="#40b0dc"/>
<circle cx="540.96" cy="104.83" r="1.1" stroke="#40b0dc"/>
<circle cx="541.91" cy="104.89" r="1.1" stroke="#40b0dc"/>
<circle cx="542.85" cy="104.94" r="1.1" stroke="#40b0dc"/>
<circle cx="543.8" cy="104.99" r="1.1" stroke="#40b0dc"/>
</g>
<g fill="none" stroke-width="0.5">
<circle cx="335.5" cy="167.5" r="1.1" stroke="#a29cf2"/>
<circle cx="337.78" cy="166.14" r="1.1" stroke="#a29cf2"/>
<circle cx="340.03" cy="164.77" r="1.1" stroke="#a19cf2"/>
<circle cx="342.25" cy="163.42" r="1.1" stroke="#a09cf2"/>
<circle cx="344.45" cy="162.08" r="1.1" stroke="#a09cf1"/>
<circle cx="346.62" cy="160.76" r="1.1" stroke="#9f9cf1"/>
<circle cx="348.77" cy="159.46" r="1.1" stroke="#9e9df1"/>
<circle cx="350.9" cy="158.17" r="1.1" stroke="#9d9df1"/>
<circle cx="353.01" cy="156.91" r="1.1" stroke="#9c9df1"/>
<circle cx="355.1" cy="155.67" r="1.1" stroke="#9b9df1"/>
<circle cx="357.17" cy="154.45" r="1.1" stroke="#9b9df0"/>
<circle cx="359.22" cy="153.25" r="1.1" stroke="#9a9df0"/>
<circle cx="361.25" cy="152.08" r="1.1" stroke="#999df0"/>
<circle cx="363.28" cy="150.93" r="1.1" stroke="#989ef0"/>
<circle cx="365.28" cy="149.82" r="1.1" stroke="#979ef0"/>
<circle cx="367.28" cy="148.73" r="1.1" stroke="#969eef"/>
<circle cx="369.27" cy="147.68" r="1.1" stroke="#959eef"/>
<circle cx="371.25" cy="146.68" r="1.1" stroke="#949eef"/>
<circle cx="373.22" cy="145.72" r="1.1" stroke="#939eef"/>
<circle cx="375.18" cy="144.8" r="1.1" stroke="#929eef"/>
<circle cx="377.14" cy="143.93" r="1.1" stroke="#919fee"/>
<circle cx="379.08" cy="143.08" r="1.1" stroke="#909fee"/>
<circle cx="381.01" cy="142.27" r="1.1" stroke="#8f9fee"/>
<circle cx="382.92" cy="141.48" r="1.1" stroke="#8e9fee"/>
<circle cx="384.81" cy="140.72" r="1.1" stroke="#8d9fee"/>
<circle cx="386.69" cy="139.98" r="1.1" stroke="#8c9fed"/>
<circle cx="388.54" cy="139.25" r="1.1" stroke="#8b9fed"/>
<circle cx="390.38" cy="138.54" r="1.1" stroke="#8aa0ed"/>
<circle cx="392.19" cy="137.83" r="1.1" stroke="#89a0ed"/>
<circle cx="393.98" cy="137.14" r="1.1" stroke="#88a0ed"/>
<circle cx="395.75" cy="136.44" r="1.1" stroke="#87a0ec"/>
<circle cx="397.49" cy="135.74" r="1.1" stroke="#86a0ec"/>
<circle cx="399.2" cy="135.03" r="1.1" stroke="#85a0ec"/>
<circle cx="400.89" cy="134.32" r="1.1" stroke="#84a0ec"/>
<circle cx="402.55" cy="133.6" r="1.1" stroke="#83a1eb"/>
<circle cx="404.18" cy="132.88" r="1.1" stroke="#82a1eb"/>
<circle cx="405.79" cy="132.15" r="1.1" stroke="#82a1eb"/>
<circle cx="407.38" cy="131.42" r="1.1" stroke="#81a1eb"/>
<circle cx="408.94" cy="130.71" r="1.1" stroke="#80a1eb"/>
<circle cx="410.49" cy="129.99" r="1.1" stroke="#7fa1eb"/>
<circle cx="412.02" cy="129.29" r="1.1" stroke="#7ea1ea"/>
<circle cx="413.54" cy="128.61" r="1.1" stroke="#7da2ea"/>
<circle cx="415.04" cy="127.95" r="1.1" stroke="#7ca2ea"/>
<circle cx="416.53" cy="127.3" r="1.1" stroke="#7ba2ea"/>
<circle cx="418.01" cy="126.68" r="1.1" stroke="#7aa2ea"/>
<circle cx="419.48" cy="126.08" r="1.1" stroke="#79a2e9"/>
<circle cx="420.94" cy="125.51" r="1.1" stroke="#79a2e9"/>
<circle cx="422.39" cy="124.95" r="1.1" stroke="#78a2e9"/>
<circle cx="423.82" cy="124.43" r="1.1" stroke="#77a2e9"/>
<circle cx="425.24" cy="123.92" r="1.1" stroke="#76a3e9"/>
<circle cx="426.65" cy="123.42" r="1.1" stroke="#75a3e8"/>
<circle cx="428.04" cy="122.93" r="1.1" stroke="#74a3e8"/>
<circle cx="429.41" cy="122.46" r="1.1" stroke="#73a3e8"/>
<circle cx="430.77" cy="121.99" r="1.1" stroke="#73a3e8"/>
<circle cx="432.12" cy="121.53" r="1.1" stroke="#72a3e8"/>
<circle cx="433.45" cy="121.08" r="1.1" stroke="#71a3e8"/>
<circle cx="434.76" cy="120.64" r="1.1" stroke="#70a3e7"/>
<circle cx="436.06" cy="120.21" r="1.1" stroke="#6fa4e7"/>
<circle cx="437.34" cy="119.79" r="1.1" stroke="#6ea4e7"/>
<circle cx="438.61" cy="119.38" r="1.1" stroke="#6ea4e7"/>
<circle cx="439.87" cy="118.98" r="1.1" stroke="#6da4e7"/>
<circle cx="441.11" cy="118.59" r="1.1" stroke="#6ca4e7"/>
<circle cx="442.34" cy="118.21" r="1.1" stroke="#6ba4e6"/>
<circle cx="443.55" cy="117.84" r="1.1" stroke="#6aa4e6"/>
<circle cx="444.75" cy="117.48" r="1.1" stroke="#6aa4e6"/>
<circle cx="445.94" cy="117.13" r="1.1" stroke="#69a5e6"/>
<circle cx="447.12" cy="116.79" r="1.1" stroke="#68a5e6"/>
<circle cx="448.28" cy="116.46" r="1.1" stroke="#67a5e6"/>
<circle cx="449.43" cy="116.14" r="1.1" stroke="#67a5e5"/>
<circle cx="450.56" cy="115.83" r="1.1" stroke="#66a5e5"/>
<circle cx="451.69" cy="115.53" r="1.1" stroke="#65a5e5"/>
<circle cx="452.8" cy="115.24" r="1.1" stroke="#64a5e5"/>
<circle cx="453.89" cy="114.95" r="1.1" stroke="#64a5e5"/>
<circle cx="454.98" cy="114.68" r="1.1" stroke="#63a5e5"/>
<circle cx="456.05" cy="114.42" r="1.1" stroke="#62a5e4"/>
<circle cx="457.11" cy="114.16" r="1.1" stroke="#62a6e4"/>
<circle cx="458.16" cy="113.92" r="1.1" stroke="#61a6e4"/>
<circle cx="459.2" cy="113.68" r="1.1" stroke="#60a6e4"/>
<circle cx="460.23" cy="113.45" r="1.1" stroke="#5fa6e4"/>
<circle cx="461.24" cy="113.23" r="1.1" stroke="#5fa6e4"/>
<circle cx="462.24" cy="113.02" r="1.1" stroke="#5ea6e4"/>
<circle cx="463.23" cy="112.8" r="1.1" stroke="#5da6e3"/>
<circle cx="464.2" cy="112.6" r="1.1" stroke="#5da6e3"/>
<circle cx="465.17" cy="112.4" r="1.1" stroke="#5ca6e3"/>
<circle cx="466.12" cy="112.2" r="1.1" stroke="#5ca6e3"/>
<circle cx="467.06" cy="112.01" r="1.1" stroke="#5ba7e3"/>
<circle cx="467.99" cy="111.82" r="1.1" stroke="#5aa7e3"/>
<circle cx="468.93" cy="111.63" r="1.1" stroke="#5aa7e3"/>
<circle cx="469.86" cy="111.45" r="1.1" stroke="#59a7e2"/>
<circle cx="470.79" cy="111.27" r="1.1" stroke="#58a7e2"/>
<circle cx="471.72" cy="111.09" r="1.1" stroke="#58a7e2"/>
<circle cx="472.66" cy="110.92" r="1.1" stroke="#57a7e2"/>
<circle cx="473.59" cy="110.75" r="1.1" stroke="#56a7e2"/>
<circle cx="474.53" cy="110.58" r="1.1" stroke="#56a7e2"/>
<circle cx="475.46" cy="110.41" r="1.1" stroke="#55a7e2"/>
<circle cx="476.4" cy="110.25" r="1.1" stroke="#55a8e2"/>
<circle cx="477.33" cy="110.09" r="1.1" stroke="#54a8e1"/>
<circle cx="478.27" cy="109.94" r="1.1" stroke="#53a8e1"/>
<circle cx="479.21" cy="109.78" r="1.1" stroke="#53a8e1"/>
<circle cx="480.15" cy="109.64" r="1.1" stroke="#52a8e1"/>
<circle cx="481.09" cy="109.49" r="1.1" stroke="#51a8e1"/>
<circle cx="482.03" cy="109.35" r="1.1" stroke="#51a8e1"/>
<circle cx="482.97" cy="109.21" r="1.1" stroke="#50a8e1"/>
<circle cx="483.91" cy="109.09" r="1.1" stroke="#4fa8e0"/>
<circle cx="484.85" cy="108.96" r="1.1" stroke="#4fa8e0"/>
<circle cx="485.79" cy="108.83" r="1.1" stroke="#4ea9e0"/>
<circle cx="486.73" cy="108.72" r="1.1" stroke="#4da9e0"/>
<circle cx="487.68" cy="108.61" r="1.1" stroke="#4da9e0"/>
<circle cx="488.62" cy="108.5" r="1.1" stroke="#4ca9e0"/>
<circle cx="489.56" cy="108.39" r="1.1" stroke="#4ba9e0"/>
<circle cx="490.51" cy="108.3" r="1.1" stroke="#4ba9df"/>
<circle cx="491.46" cy="108.2" r="1.1" stroke="#4aa9df"/>
<circle cx="492.4" cy="108.11" r="1.1" stroke="#49a9df"/>
<circle cx="493.35" cy="108.03" r="1.1" stroke="#49a9df"/>
<circle cx="494.29" cy="107.95" r="1.1" stroke="#48a9df"/>
<circle cx="495.24" cy="107.88" r="1.1" stroke="#47a9df"/>
<circle cx="496.19" cy="107.81" r="1.1" stroke="#47aadf"/>
<circle cx="497.14" cy="107.75" r="1.1" stroke="#46aade"/>
<circle cx="498.09" cy="107.7" r="1.1" stroke="#45aade"/>
<circle cx="499.03" cy="107.65" r="1.1" stroke="#45aade"/>
<circle cx="499.98" cy="107.6" r="1.1" stroke="#44aade"/>
<circle cx="500.93" cy="107.58" r="1.1" stroke="#44aade"/>
<circle cx="501.88" cy="107.56" r="1.1" stroke="#44aade"/>
<circle cx="502.83" cy="107.54" r="1.1" stroke="#44aade"/>
<circle cx="503.78" cy="107.52" r="1.1" stroke="#44aade"/>
<circle cx="504.73" cy="107.53" r="1.1" stroke="#44aade"/>
<circle cx="505.68" cy="107.53" r="1.1" stroke="#44aade"/>
<circle cx="506.63" cy="107.54" r="1.1" stroke="#44aade"/>
<circle cx="507.58" cy="107.55" r="1.1" stroke="#44aade"/>
<circle cx="508.53" cy="107.58" r="1.1" stroke="#44aade"/>
<circle cx="509.48" cy="107.6" r="1.1" stroke="#44aade"/>
<circle cx="510.43" cy="107.63" r="1.1" stroke="#44aade"/>
<circle cx="511.38" cy="107.66" r="1.1" stroke="#44aade"/>
<circle cx="512.33" cy="107.7" r="1.1" stroke="#44aade"/>
<circle cx="513.28" cy="107.75" r="1.1" stroke="#44aade"/>
<circle cx="514.23" cy="107.79" r="1.1" stroke="#44aade"/>
<circle cx="515.18" cy="107.84" r="1.1" stroke="#44aade"/>
<circle cx="516.13" cy="107.88" r="1.1" stroke="#44aade"/>
<circle cx="517.07" cy="107.94" r="1.1" stroke="#44aade"/>
<circle cx="518.02" cy="108" r="1.1" stroke="#44aade"/>
<circle cx="518.97" cy="108.05" r="1.1" stroke="#44aade"/>
<circle cx="519.92" cy="108.11" r="1.1" stroke="#44aade"/>
<circle cx="520.87" cy="108.17" r="1.1" stroke="#44aade"/>
<circle cx="521.81" cy="108.24" r="1.1" stroke="#44aade"/>
<circle cx="522.76" cy="108.31" r="1.1" stroke="#44aade"/>
<circle cx="523.71" cy="108.38" r="1.1" stroke="#44aade"/>
<circle cx="524.66" cy="108.44" r="1.1" stroke="#44aade"/>
<circle cx="525.6" cy="108.52" r="1.1" stroke="#44aade"/>
<circle cx="526.55" cy="108.59" r="1.1" stroke="#44aade"/>
<circle cx="527.5" cy="108.67" r="1.1" stroke="#44aade"/>
<circle cx="528.45" cy="108.74" r="1.1" stroke="#44aade"/>
<circle cx="529.39" cy="108.82" r="1.1" stroke="#44aade"/>
<circle cx="530.34" cy="108.9" r="1.1" stroke="#44aade"/>
<circle cx="531.29" cy="108.97" r="1.1" stroke="#44aade"/>
<circle cx="532.23" cy="109.05" r="1.1" stroke="#44aade"/>
<circle cx="533.18" cy="109.13" r="1.1" stroke="#44aade"/>
<circle cx="534.13" cy="109.21" r="1.1" stroke="#44aade"/>
<circle cx="535.07" cy="109.29" r="1.1" stroke="#44aade"/>
<circle cx="536.02" cy="109.38" r="1.1" stroke="#44aade"/>
<circle cx="536.97" cy="109.46" r="1.1" stroke="#44aade"/>
<circle cx="537.91" cy="109.54" r="1.1" stroke="#44aade"/>
<circle cx="538.86" cy="109.62" r="1.1" stroke="#44aade"/>
<circle cx="539.81" cy="109.69" r="1.1" stroke="#44aade"/>
<circle cx="540.75" cy="109.77" r="1.1" stroke="#44aade"/>
<circle cx="541.7" cy="109.84" r="1.1" stroke="#44aade"/>
<circle cx="542.65" cy="109.91" r="1.1" stroke="#44aade"/>
<circle cx="543.6" cy="109.97" r="1.1" stroke="#44aade"/>
</g>
<circle cx="343.5" cy="41.6" r="9.45" fill="#777777" stroke="#5c5c5c" stroke-width="0.6"/>
<circle cx="533.7" cy="41.4" r="9.45" fill="#777777" stroke="#5c5c5c" stroke-width="0.6"/>
<circle cx="343.5" cy="231.8" r="9.45" fill="#777777" stroke="#5c5c5c" stroke-width="0.6"/>
<circle cx="533.7" cy="232" r="9.45" fill="#777777" stroke="#5c5c5c" stroke-width="0.6"/>
<g fill="none" stroke="#828282" stroke-width="0.5">
<path d="M337.2,35.2 L343.5,41.6"/>
<path d="M528.6,45.5 L528.8,36.2 L538.2,46 L538.4,36.4"/>
<path d="M528.6,236 L541.3,227.6"/>
<path d="M343.5,231.8 L350.5,226"/>
</g>
<clipPath id="cTR"><circle cx="533.7" cy="41.4" r="9.2"/></clipPath>
<rect x="526.5" y="45.6" width="14" height="3" fill="#ab9f5c" clip-path="url(#cTR)"/>
<path d="M527,34.6 Q533.5,30.2 540,34.6" fill="none" stroke="#e8d490" stroke-width="0.7" opacity="0.8"/>
<line x1="343.5" y1="41.6" x2="533.7" y2="232" stroke="#8e8e8e" stroke-width="0.5"/>
<line x1="343.5" y1="41.6" x2="352.9" y2="41.6" stroke="#d4b078" stroke-width="0.5"/>
<line x1="343.5" y1="41.6" x2="343.5" y2="51" stroke="#d4b078" stroke-width="0.5"/>
<path d="M486,88.6 L486.85,88.88 L488.02,89.21 L489.41,89.64 L490.93,90.16 L492.49,90.81 L494,91.6 L495.5,92.53 L497.08,93.59 L498.7,94.76 L500.33,96.06 L501.94,97.47 L503.5,99 L505.04,100.69 L506.6,102.55 L508.14,104.53 L509.62,106.57 L511.02,108.61 L512.3,110.6 L513.48,112.54 L514.6,114.49 L515.64,116.44 L516.56,118.4 L517.36,120.35 L518,122.3 L518.46,124.23 L518.74,126.15 L518.89,128.07 L518.95,130 L518.97,131.97 L519,134 L518.97,136.35 L518.83,139.05 L518.66,141.79 L518.5,144.25 L518.43,146.09 L518.5,147 L518.68,146.81 L518.92,145.74 L519.24,144.06 L519.68,142.04 L520.25,139.93 L521,138 L521.96,136.17 L523.11,134.2 L524.41,132.16 L525.79,130.07 L527.2,128.01 L528.6,126 L530.03,124.02 L531.56,122.02 L533.13,120.03 L534.66,118.09 L536.1,116.24 L537.4,114.5 L538.54,112.88 L539.57,111.36 L540.52,109.92 L541.39,108.56 L542.21,107.25 L543,106 L543.78,104.81 L544.56,103.7 L545.28,102.65 L545.91,101.64 L546.39,100.67 L546.7,99.7 L546.82,98.79 L546.79,97.96 L546.62,97.15 L546.32,96.32 L545.91,95.42 L545.4,94.4 L544.78,93.24 L544.04,91.98 L543.18,90.65 L542.22,89.27 L541.16,87.88 L540,86.5 L538.74,85.12 L537.38,83.73 L535.91,82.32 L534.36,80.89 L532.72,79.45 L531,78 L529.22,76.53 L527.37,75.04 L525.44,73.54 L523.41,72.03 L521.27,70.52 L519,69 L516.53,67.42 L513.85,65.77 L511.06,64.12 L508.26,62.53 L505.54,61.06 L503,59.8 L500.74,58.8 L498.7,58.01 L496.75,57.36 L494.74,56.74 L492.54,56.09 L490,55.3 L487.19,54.35 L484.22,53.31 L481.06,52.23 L477.67,51.15 L473.99,50.13 L470,49.2 L465.41,48.36 L460.19,47.57 L454.69,46.83 L449.26,46.14 L444.25,45.53 L440,45 L436.73,44.58 L434.21,44.28 L432.1,44.05 L430.08,43.84 L427.82,43.61 L425,43.3 L421.48,42.94 L417.51,42.56 L413.3,42.15 L409.07,41.71 L405.03,41.23 L401.4,40.7 L398.25,40.12 L395.43,39.51 L392.8,38.86 L390.24,38.16 L387.61,37.4 L384.8,36.6 L381.85,35.79 L378.88,34.97 L375.84,34.11 L372.71,33.15 L369.44,32.03 L366,30.7 L362.2,29.05 L358.04,27.1 L353.74,24.99 L349.54,22.88 L345.65,20.9 L342.3,19.2 L339.56,17.77 L337.27,16.5 L335.29,15.37 L333.51,14.35 L331.78,13.43 L330,12.6 L328.17,11.86 L326.39,11.23 L324.67,10.7 L323.03,10.26 L321.47,9.9 L320,9.6 L318.63,9.37 L317.36,9.23 L316.16,9.16 L315.04,9.17 L313.99,9.25 L313,9.4 L312.07,9.61 L311.2,9.89 L310.4,10.23 L309.67,10.66 L309,11.18 L308.4,11.8 L307.86,12.55 L307.39,13.43 L306.99,14.39 L306.65,15.42 L306.39,16.47 L306.2,17.5 L306.09,18.54 L306.06,19.63 L306.1,20.73 L306.21,21.84 L306.38,22.94 L306.6,24 L306.89,25.02 L307.24,26.01 L307.66,26.99 L308.13,27.97 L308.64,28.97 L309.2,30 L309.78,31.05 L310.4,32.1 L311.06,33.17 L311.79,34.27 L312.6,35.41 L313.5,36.6 L314.54,37.89 L315.72,39.27 L316.98,40.7 L318.27,42.1 L319.52,43.42 L320.7,44.6 L321.82,45.6 L322.93,46.47 L324.02,47.26 L325.06,48.01 L326.02,48.78 L326.9,49.6 L327.66,50.47 L328.31,51.35 L328.89,52.24 L329.44,53.14 L330,54.06 L330.6,55 L331.23,55.97 L331.87,56.96 L332.52,57.96 L333.17,58.98 L333.83,59.99 L334.5,61 L335.11,61.92 L335.65,62.74 L336.2,63.56 L336.84,64.48 L337.64,65.59 L338.7,67 L340.03,68.74 L341.58,70.74 L343.3,72.94 L345.14,75.26 L347.06,77.64 L349,80 L350.99,82.4 L353.06,84.89 L355.21,87.44 L357.42,90 L359.69,92.53 L362,95 L364.29,97.36 L366.56,99.63 L368.88,101.88 L371.33,104.15 L374.01,106.5 L377,109 L380.36,111.69 L384.05,114.54 L387.96,117.48 L391.99,120.41 L396.04,123.28 L400,126 L403.9,128.53 L407.82,130.91 L411.76,133.23 L415.7,135.53 L419.65,137.9 L423.6,140.4 L427.57,143.12 L431.58,146.01 L435.59,148.98 L439.57,151.87 L443.49,154.59 L447.3,157 L450.99,159.08 L454.58,160.93 L458.11,162.59 L461.6,164.12 L465.08,165.57 L468.6,167 L472.18,168.39 L475.8,169.7 L479.42,170.93 L482.99,172.09 L486.46,173.18 L489.8,174.2 L493.17,175.18 L496.64,176.13 L500.02,177 L503.11,177.77 L505.7,178.42 L507.6,178.9" fill="none" stroke="#8ec4ea" stroke-width="0.6"/>
<path d="M391.2,183.6 L391.2,183.38 L391.23,183.18 L391.26,182.89 L391.22,182.42 L391.09,181.65 L390.8,180.5 L390.44,178.84 L390.06,176.73 L389.58,174.32 L388.91,171.8 L387.98,169.3 L386.7,167 L385.07,164.9 L383.15,162.89 L380.97,160.9 L378.54,158.9 L375.87,156.85 L373,154.7 L369.74,152.35 L366.06,149.83 L362.14,147.24 L358.2,144.73 L354.42,142.41 L351,140.4 L347.94,138.74 L345.06,137.34 L342.35,136.14 L339.79,135.06 L337.34,134.03 L335,133 L332.8,131.95 L330.77,130.92 L328.86,129.96 L327.03,129.08 L325.22,128.32 L323.4,127.7 L321.54,127.22 L319.67,126.86 L317.84,126.62 L316.06,126.49 L314.37,126.49 L312.8,126.6 L311.32,126.85 L309.91,127.24 L308.59,127.74 L307.39,128.35 L306.31,129.04 L305.4,129.8 L304.65,130.63 L304.06,131.56 L303.6,132.56 L303.26,133.64 L303.03,134.79 L302.9,136 L302.85,137.29 L302.89,138.66 L303.04,140.1 L303.32,141.59 L303.73,143.09 L304.3,144.6 L305.03,146.13 L305.91,147.7 L306.92,149.3 L308.07,150.9 L309.33,152.47 L310.7,154 L312.25,155.49 L314,156.97 L315.87,158.42 L317.77,159.85 L319.61,161.25 L321.3,162.6 L322.88,163.89 L324.43,165.11 L325.92,166.31 L327.31,167.5 L328.59,168.72 L329.7,170 L330.53,171.27 L331.07,172.47 L331.48,173.71 L331.93,175.06 L332.59,176.63 L333.6,178.5 L335.05,180.76 L336.81,183.35 L338.78,186.16 L340.82,189.05 L342.84,191.9 L344.7,194.6 L346.46,197.2 L348.23,199.81 L349.96,202.39 L351.63,204.88 L353.18,207.23 L354.6,209.4 L355.91,211.45 L357.14,213.43 L358.27,215.28 L359.26,216.91 L360.08,218.28 L360.7,219.3" fill="none" stroke="#cdd6a4" stroke-width="0.55"/>
<line x1="343.5" y1="155" x2="343.5" y2="186" stroke="#9fd3ef" stroke-width="0.7"/>
<line x1="533.5" y1="92" x2="533.5" y2="120.3" stroke="#d9a0c8" stroke-width="0.6"/>
<path d="M339.2,66 L348,71.7 M346.7,64.5 L340.4,73" stroke="#b56cf0" stroke-width="0.95"/><circle cx="339.2" cy="66" r="1.8" fill="#b56cf0"/><circle cx="346.7" cy="64.5" r="1.8" fill="#b56cf0"/><circle cx="340.4" cy="73" r="1.8" fill="#b56cf0"/><circle cx="348" cy="71.7" r="1.8" fill="#b56cf0"/>
<path d="M533.6,82 L533.6,92.4 M528.4,87.2 L538.8,87.2" stroke="#f4874f" stroke-width="0.95"/><circle cx="533.6" cy="82" r="2" fill="#f4874f"/><circle cx="528.4" cy="87.2" r="2" fill="#f4874f"/><circle cx="538.8" cy="87.2" r="2" fill="#f4874f"/><circle cx="533.6" cy="92.4" r="2" fill="#f4874f"/>
<path d="M343.6,186.6 L343.6,197 M338.4,191.8 L348.8,191.8" stroke="#138a13" stroke-width="0.95"/><circle cx="343.6" cy="186.6" r="2" fill="#138a13"/><circle cx="338.4" cy="191.8" r="2" fill="#138a13"/><circle cx="348.8" cy="191.8" r="2" fill="#138a13"/><circle cx="343.6" cy="197" r="2" fill="#138a13"/>
<path d="M509.7,176.9 L518.2,183.2 M517.3,176 L510.6,184.1" stroke="#0a10ff" stroke-width="0.95"/><circle cx="509.7" cy="176.9" r="1.9" fill="#0a10ff"/><circle cx="517.3" cy="176" r="1.9" fill="#0a10ff"/><circle cx="510.6" cy="184.1" r="1.9" fill="#0a10ff"/><circle cx="518.2" cy="183.2" r="1.9" fill="#0a10ff"/>
<path d="M353,223 L361,230.6 M361,223 L353,230.6" stroke="#0a10ff" stroke-width="0.95"/><circle cx="353" cy="223" r="1.8" fill="#0a10ff"/><circle cx="361" cy="223" r="1.8" fill="#0a10ff"/><circle cx="353" cy="230.6" r="1.8" fill="#0a10ff"/><circle cx="361" cy="230.6" r="1.8" fill="#0a10ff"/>
<g font-family="Liberation Serif, serif" font-style="italic" fill="#1a1a1a" stroke="#1a1a1a" stroke-width="0.25">
<text x="468.2" y="95" font-size="8.2">O<tspan font-size="5.6" font-style="normal" dy="1.2">1</tspan></text>
<text x="400.9" y="191.9" font-size="8.2">O<tspan font-size="5.6" font-style="normal" dy="1.2">2</tspan></text>
<text x="521.7" y="182.5" font-size="8.2">L<tspan font-size="5.6" font-style="normal" dy="1.2">1</tspan></text>
<text x="364.6" y="230.6" font-size="8.2">L<tspan font-size="5.6" font-style="normal" dy="1.2">2</tspan></text>
</g>
<path d="M479.4,91.8 L483.6,89.8" stroke="#111" stroke-width="0.6"/><path d="M485.2,89.1 L481.9,89.2 L483.1,91.3 Z" fill="#111"/>
<path d="M398.6,187.4 L394.4,185.6" stroke="#111" stroke-width="0.6"/><path d="M392.3,185 L395.9,184.6 L395,186.9 Z" fill="#111"/>
<g font-family="Liberation Serif, Times New Roman, serif" font-size="12" fill="#262626">
<text x="72" y="278.7">(<tspan font-weight="bold">a</tspan>)</text>
<text x="87.4" y="278.7" textLength="89" lengthAdjust="spacing">Perspective view.</text>
<text x="376.5" y="278.7">(<tspan font-weight="bold">b</tspan>)</text>
<text x="393.3" y="278.7" textLength="49.2" lengthAdjust="spacing">Top view.</text>
</g>
</svg>
</body></html>
